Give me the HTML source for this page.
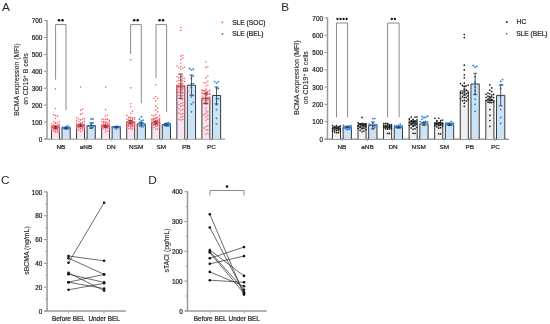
<!DOCTYPE html>
<html><head><meta charset="utf-8"><style>
html,body{margin:0;padding:0;background:#fff;width:550px;height:324px;overflow:hidden;}
svg{display:block;will-change:transform;}
</style></head><body>
<svg width="550" height="324" viewBox="0 0 550 324">
<style>text{font-family:"Liberation Sans", sans-serif;fill:#262626;stroke:#262626;stroke-width:0.22px;} .t{font-size:6.4px;} .l{font-size:6.65px;} .yc{font-size:6.85px;stroke-width:0.1px;} .ya{font-size:6.8px;stroke-width:0.1px;} .yb{font-size:7px;stroke-width:0.1px;} .p{font-size:11.8px;stroke-width:0;}</style>
<rect width="550" height="324" fill="#fff"/>
<text x="2.1" y="11.4" class="p">A</text>
<text x="281.3" y="11.2" class="p">B</text>
<text x="1.0" y="184.4" class="p">C</text>
<text x="148.3" y="184.4" class="p">D</text>
<line x1="47.0" y1="20.1" x2="47.0" y2="138.9" stroke="#9a9a9a" stroke-width="1.5"/>
<line x1="44.5" y1="139.1" x2="225" y2="139.1" stroke="#9a9a9a" stroke-width="1.4"/>
<line x1="44.0" y1="138.9" x2="47.0" y2="138.9" stroke="#9a9a9a" stroke-width="1.1"/>
<text x="42.3" y="141.5" text-anchor="end" class="t">0</text>
<line x1="44.0" y1="122" x2="47.0" y2="122" stroke="#9a9a9a" stroke-width="1.1"/>
<text x="42.3" y="124.6" text-anchor="end" class="t">100</text>
<line x1="44.0" y1="105.1" x2="47.0" y2="105.1" stroke="#9a9a9a" stroke-width="1.1"/>
<text x="42.3" y="107.7" text-anchor="end" class="t">200</text>
<line x1="44.0" y1="88.2" x2="47.0" y2="88.2" stroke="#9a9a9a" stroke-width="1.1"/>
<text x="42.3" y="90.8" text-anchor="end" class="t">300</text>
<line x1="44.0" y1="71.3" x2="47.0" y2="71.3" stroke="#9a9a9a" stroke-width="1.1"/>
<text x="42.3" y="73.9" text-anchor="end" class="t">400</text>
<line x1="44.0" y1="54.4" x2="47.0" y2="54.4" stroke="#9a9a9a" stroke-width="1.1"/>
<text x="42.3" y="57" text-anchor="end" class="t">500</text>
<line x1="44.0" y1="37.5" x2="47.0" y2="37.5" stroke="#9a9a9a" stroke-width="1.1"/>
<text x="42.3" y="40.1" text-anchor="end" class="t">600</text>
<line x1="44.0" y1="20.6" x2="47.0" y2="20.6" stroke="#9a9a9a" stroke-width="1.1"/>
<text x="42.3" y="23.2" text-anchor="end" class="t">700</text>
<line x1="60.9" y1="138.9" x2="60.9" y2="141.1" stroke="#9a9a9a" stroke-width="0.8"/>
<line x1="85.97" y1="138.9" x2="85.97" y2="141.1" stroke="#9a9a9a" stroke-width="0.8"/>
<line x1="111.04" y1="138.9" x2="111.04" y2="141.1" stroke="#9a9a9a" stroke-width="0.8"/>
<line x1="136.11" y1="138.9" x2="136.11" y2="141.1" stroke="#9a9a9a" stroke-width="0.8"/>
<line x1="161.18" y1="138.9" x2="161.18" y2="141.1" stroke="#9a9a9a" stroke-width="0.8"/>
<line x1="186.25" y1="138.9" x2="186.25" y2="141.1" stroke="#9a9a9a" stroke-width="0.8"/>
<line x1="211.32" y1="138.9" x2="211.32" y2="141.1" stroke="#9a9a9a" stroke-width="0.8"/>
<rect x="51.5" y="127.41" width="7.95" height="11.49" fill="#f7e6f1"/>
<path d="M51.5 138.9V127.41H59.45V138.9" fill="none" stroke="#3a3a3a" stroke-width="1.0"/>
<rect x="62" y="127.92" width="8.2" height="10.98" fill="#cce3f6"/>
<path d="M62 138.9V127.92H70.2V138.9" fill="none" stroke="#3a3a3a" stroke-width="1.0"/>
<circle cx="55.47" cy="132.16" r="0.8" fill="#ff5a66"/>
<circle cx="57.37" cy="131.97" r="0.8" fill="#ff5a66"/>
<circle cx="53.57" cy="131.02" r="0.8" fill="#ff5a66"/>
<circle cx="59.27" cy="130.97" r="0.8" fill="#ff5a66"/>
<circle cx="51.67" cy="130.37" r="0.8" fill="#ff5a66"/>
<circle cx="55.47" cy="130.2" r="0.8" fill="#ff5a66"/>
<circle cx="57.37" cy="130.13" r="0.8" fill="#ff5a66"/>
<circle cx="53.57" cy="129.99" r="0.8" fill="#ff5a66"/>
<circle cx="55.47" cy="129.24" r="0.8" fill="#ff5a66"/>
<circle cx="57.37" cy="129.2" r="0.8" fill="#ff5a66"/>
<circle cx="59.27" cy="129.04" r="0.8" fill="#ff5a66"/>
<circle cx="51.67" cy="128.92" r="0.8" fill="#ff5a66"/>
<circle cx="55.47" cy="128.65" r="0.8" fill="#ff5a66"/>
<circle cx="57.37" cy="128.65" r="0.8" fill="#ff5a66"/>
<circle cx="53.57" cy="128.05" r="0.8" fill="#ff5a66"/>
<circle cx="59.27" cy="127.93" r="0.8" fill="#ff5a66"/>
<circle cx="53.57" cy="127.79" r="0.8" fill="#ff5a66"/>
<circle cx="51.67" cy="127.64" r="0.8" fill="#ff5a66"/>
<circle cx="55.47" cy="127.59" r="0.8" fill="#ff5a66"/>
<circle cx="57.37" cy="127.53" r="0.8" fill="#ff5a66"/>
<circle cx="59.27" cy="127.52" r="0.8" fill="#ff5a66"/>
<circle cx="53.57" cy="126.94" r="0.8" fill="#ff5a66"/>
<circle cx="51.67" cy="126.81" r="0.8" fill="#ff5a66"/>
<circle cx="55.47" cy="126.66" r="0.8" fill="#ff5a66"/>
<circle cx="57.37" cy="126.41" r="0.8" fill="#ff5a66"/>
<circle cx="59.27" cy="126.21" r="0.8" fill="#ff5a66"/>
<circle cx="51.67" cy="126.16" r="0.8" fill="#ff5a66"/>
<circle cx="55.47" cy="126.15" r="0.8" fill="#ff5a66"/>
<circle cx="55.47" cy="126.05" r="0.8" fill="#ff5a66"/>
<circle cx="57.37" cy="125.86" r="0.8" fill="#ff5a66"/>
<circle cx="57.37" cy="125.85" r="0.8" fill="#ff5a66"/>
<circle cx="53.57" cy="125.81" r="0.8" fill="#ff5a66"/>
<circle cx="59.27" cy="125.72" r="0.8" fill="#ff5a66"/>
<circle cx="51.67" cy="125.7" r="0.8" fill="#ff5a66"/>
<circle cx="55.47" cy="125.69" r="0.8" fill="#ff5a66"/>
<circle cx="57.37" cy="125.55" r="0.8" fill="#ff5a66"/>
<circle cx="53.57" cy="125.18" r="0.8" fill="#ff5a66"/>
<circle cx="53.57" cy="125.1" r="0.8" fill="#ff5a66"/>
<circle cx="59.27" cy="124.91" r="0.8" fill="#ff5a66"/>
<circle cx="59.27" cy="124.48" r="0.8" fill="#ff5a66"/>
<circle cx="51.67" cy="123.82" r="0.8" fill="#ff5a66"/>
<circle cx="55.47" cy="123.3" r="0.8" fill="#ff5a66"/>
<circle cx="57.37" cy="123.22" r="0.8" fill="#ff5a66"/>
<circle cx="55.47" cy="122.65" r="0.8" fill="#ff5a66"/>
<circle cx="53.57" cy="121.75" r="0.8" fill="#ff5a66"/>
<circle cx="59.27" cy="121.69" r="0.8" fill="#ff5a66"/>
<circle cx="55.47" cy="118.45" r="0.8" fill="#ff5a66"/>
<circle cx="57.37" cy="116.09" r="0.8" fill="#ff5a66"/>
<circle cx="55.47" cy="115.58" r="0.8" fill="#ff5a66"/>
<circle cx="53.57" cy="114.9" r="0.8" fill="#ff5a66"/>
<circle cx="55.47" cy="108.48" r="0.8" fill="#ff5a66"/>
<circle cx="55.47" cy="88.88" r="0.8" fill="#ff5a66"/>
<circle cx="66.1" cy="129.21" r="0.95" fill="#2a86e6"/>
<circle cx="67.95" cy="128.76" r="0.95" fill="#2a86e6"/>
<circle cx="64.25" cy="128.66" r="0.95" fill="#2a86e6"/>
<circle cx="69.8" cy="128.41" r="0.95" fill="#2a86e6"/>
<circle cx="62.4" cy="128.16" r="0.95" fill="#2a86e6"/>
<circle cx="66.1" cy="127.92" r="0.95" fill="#2a86e6"/>
<circle cx="67.95" cy="127.7" r="0.95" fill="#2a86e6"/>
<circle cx="64.25" cy="127.67" r="0.95" fill="#2a86e6"/>
<circle cx="69.8" cy="127.53" r="0.95" fill="#2a86e6"/>
<circle cx="62.4" cy="127.26" r="0.95" fill="#2a86e6"/>
<circle cx="66.1" cy="126.72" r="0.95" fill="#2a86e6"/>
<circle cx="67.95" cy="125.93" r="0.95" fill="#2a86e6"/>
<path d="M55.47 128.42V126.39M53.57 126.39H57.37M53.57 128.42H57.37" fill="none" stroke="#333" stroke-width="0.8"/>
<path d="M66.1 128.59V127.24M64.2 127.24H68M64.2 128.59H68" fill="none" stroke="#333" stroke-width="0.8"/>
<text transform="translate(60.9,149) scale(1,0.9)" text-anchor="middle" class="t">NB</text>
<rect x="76.57" y="125.38" width="7.95" height="13.52" fill="#f7e6f1"/>
<path d="M76.57 138.9V125.38H84.52V138.9" fill="none" stroke="#3a3a3a" stroke-width="1.0"/>
<rect x="87.07" y="125.55" width="8.2" height="13.35" fill="#cce3f6"/>
<path d="M87.07 138.9V125.55H95.27V138.9" fill="none" stroke="#3a3a3a" stroke-width="1.0"/>
<circle cx="80.54" cy="131.51" r="0.8" fill="#ff5a66"/>
<circle cx="82.44" cy="130.26" r="0.8" fill="#ff5a66"/>
<circle cx="78.64" cy="129.96" r="0.8" fill="#ff5a66"/>
<circle cx="84.34" cy="129.55" r="0.8" fill="#ff5a66"/>
<circle cx="76.74" cy="129.3" r="0.8" fill="#ff5a66"/>
<circle cx="80.54" cy="128.86" r="0.8" fill="#ff5a66"/>
<circle cx="80.54" cy="128.64" r="0.8" fill="#ff5a66"/>
<circle cx="82.44" cy="128.32" r="0.8" fill="#ff5a66"/>
<circle cx="82.44" cy="127.64" r="0.8" fill="#ff5a66"/>
<circle cx="78.64" cy="127.58" r="0.8" fill="#ff5a66"/>
<circle cx="84.34" cy="127.42" r="0.8" fill="#ff5a66"/>
<circle cx="78.64" cy="127.18" r="0.8" fill="#ff5a66"/>
<circle cx="76.74" cy="127.09" r="0.8" fill="#ff5a66"/>
<circle cx="84.34" cy="126.93" r="0.8" fill="#ff5a66"/>
<circle cx="80.54" cy="126.91" r="0.8" fill="#ff5a66"/>
<circle cx="76.74" cy="126.64" r="0.8" fill="#ff5a66"/>
<circle cx="82.44" cy="126.57" r="0.8" fill="#ff5a66"/>
<circle cx="78.64" cy="126.55" r="0.8" fill="#ff5a66"/>
<circle cx="84.34" cy="126.43" r="0.8" fill="#ff5a66"/>
<circle cx="76.74" cy="126.42" r="0.8" fill="#ff5a66"/>
<circle cx="80.54" cy="126.16" r="0.8" fill="#ff5a66"/>
<circle cx="80.54" cy="125.89" r="0.8" fill="#ff5a66"/>
<circle cx="82.44" cy="125.69" r="0.8" fill="#ff5a66"/>
<circle cx="80.54" cy="125.59" r="0.8" fill="#ff5a66"/>
<circle cx="82.44" cy="125.58" r="0.8" fill="#ff5a66"/>
<circle cx="78.64" cy="125.21" r="0.8" fill="#ff5a66"/>
<circle cx="82.44" cy="125.01" r="0.8" fill="#ff5a66"/>
<circle cx="84.34" cy="124.99" r="0.8" fill="#ff5a66"/>
<circle cx="78.64" cy="124.98" r="0.8" fill="#ff5a66"/>
<circle cx="76.74" cy="124.95" r="0.8" fill="#ff5a66"/>
<circle cx="78.64" cy="124.57" r="0.8" fill="#ff5a66"/>
<circle cx="84.34" cy="124.5" r="0.8" fill="#ff5a66"/>
<circle cx="76.74" cy="124.46" r="0.8" fill="#ff5a66"/>
<circle cx="80.54" cy="124.33" r="0.8" fill="#ff5a66"/>
<circle cx="84.34" cy="124.31" r="0.8" fill="#ff5a66"/>
<circle cx="80.54" cy="124.28" r="0.8" fill="#ff5a66"/>
<circle cx="82.44" cy="124.08" r="0.8" fill="#ff5a66"/>
<circle cx="76.74" cy="123.18" r="0.8" fill="#ff5a66"/>
<circle cx="80.54" cy="123" r="0.8" fill="#ff5a66"/>
<circle cx="82.44" cy="122.52" r="0.8" fill="#ff5a66"/>
<circle cx="78.64" cy="121.81" r="0.8" fill="#ff5a66"/>
<circle cx="84.34" cy="121.39" r="0.8" fill="#ff5a66"/>
<circle cx="76.74" cy="120.45" r="0.8" fill="#ff5a66"/>
<circle cx="80.54" cy="119.91" r="0.8" fill="#ff5a66"/>
<circle cx="82.44" cy="119.27" r="0.8" fill="#ff5a66"/>
<circle cx="78.64" cy="118.95" r="0.8" fill="#ff5a66"/>
<circle cx="84.34" cy="118.66" r="0.8" fill="#ff5a66"/>
<circle cx="76.74" cy="117.66" r="0.8" fill="#ff5a66"/>
<circle cx="80.54" cy="114.4" r="0.8" fill="#ff5a66"/>
<circle cx="82.44" cy="113.55" r="0.8" fill="#ff5a66"/>
<circle cx="80.54" cy="110.17" r="0.8" fill="#ff5a66"/>
<circle cx="82.44" cy="109.33" r="0.8" fill="#ff5a66"/>
<circle cx="80.54" cy="87.02" r="0.8" fill="#ff5a66"/>
<circle cx="91.17" cy="128.02" r="0.95" fill="#2a86e6"/>
<circle cx="93.02" cy="127.04" r="0.95" fill="#2a86e6"/>
<circle cx="89.32" cy="126.16" r="0.95" fill="#2a86e6"/>
<circle cx="94.87" cy="126.05" r="0.95" fill="#2a86e6"/>
<circle cx="87.47" cy="125.88" r="0.95" fill="#2a86e6"/>
<circle cx="91.17" cy="125.46" r="0.95" fill="#2a86e6"/>
<circle cx="91.17" cy="124.54" r="0.95" fill="#2a86e6"/>
<circle cx="93.02" cy="122.89" r="0.95" fill="#2a86e6"/>
<circle cx="91.17" cy="118.96" r="0.95" fill="#2a86e6"/>
<circle cx="93.02" cy="118.96" r="0.95" fill="#2a86e6"/>
<path d="M80.54 126.56V124.2M78.64 124.2H82.44M78.64 126.56H82.44" fill="none" stroke="#333" stroke-width="0.8"/>
<path d="M91.17 128.25V122.84M89.27 122.84H93.07M89.27 128.25H93.07" fill="none" stroke="#333" stroke-width="0.8"/>
<text transform="translate(85.97,149) scale(1,0.9)" text-anchor="middle" class="t">aNB</text>
<rect x="101.64" y="126.39" width="7.95" height="12.51" fill="#f7e6f1"/>
<path d="M101.64 138.9V126.39H109.59V138.9" fill="none" stroke="#3a3a3a" stroke-width="1.0"/>
<rect x="112.14" y="126.9" width="8.2" height="12" fill="#cce3f6"/>
<path d="M112.14 138.9V126.9H120.34V138.9" fill="none" stroke="#3a3a3a" stroke-width="1.0"/>
<circle cx="105.61" cy="131.8" r="0.8" fill="#ff5a66"/>
<circle cx="107.51" cy="130.96" r="0.8" fill="#ff5a66"/>
<circle cx="105.61" cy="129.17" r="0.8" fill="#ff5a66"/>
<circle cx="103.71" cy="128.74" r="0.8" fill="#ff5a66"/>
<circle cx="107.51" cy="128.22" r="0.8" fill="#ff5a66"/>
<circle cx="109.41" cy="127.91" r="0.8" fill="#ff5a66"/>
<circle cx="101.81" cy="127.4" r="0.8" fill="#ff5a66"/>
<circle cx="105.61" cy="127.28" r="0.8" fill="#ff5a66"/>
<circle cx="107.51" cy="127.2" r="0.8" fill="#ff5a66"/>
<circle cx="103.71" cy="127.11" r="0.8" fill="#ff5a66"/>
<circle cx="105.61" cy="126.5" r="0.8" fill="#ff5a66"/>
<circle cx="109.41" cy="126.49" r="0.8" fill="#ff5a66"/>
<circle cx="101.81" cy="126.33" r="0.8" fill="#ff5a66"/>
<circle cx="105.61" cy="126.21" r="0.8" fill="#ff5a66"/>
<circle cx="103.71" cy="126.04" r="0.8" fill="#ff5a66"/>
<circle cx="107.51" cy="125.98" r="0.8" fill="#ff5a66"/>
<circle cx="103.71" cy="125.92" r="0.8" fill="#ff5a66"/>
<circle cx="109.41" cy="125.89" r="0.8" fill="#ff5a66"/>
<circle cx="101.81" cy="125.86" r="0.8" fill="#ff5a66"/>
<circle cx="105.61" cy="125.8" r="0.8" fill="#ff5a66"/>
<circle cx="107.51" cy="125.7" r="0.8" fill="#ff5a66"/>
<circle cx="109.41" cy="125.29" r="0.8" fill="#ff5a66"/>
<circle cx="107.51" cy="125.26" r="0.8" fill="#ff5a66"/>
<circle cx="103.71" cy="125.06" r="0.8" fill="#ff5a66"/>
<circle cx="109.41" cy="125.05" r="0.8" fill="#ff5a66"/>
<circle cx="101.81" cy="124.84" r="0.8" fill="#ff5a66"/>
<circle cx="101.81" cy="124.79" r="0.8" fill="#ff5a66"/>
<circle cx="105.61" cy="124.63" r="0.8" fill="#ff5a66"/>
<circle cx="105.61" cy="124.63" r="0.8" fill="#ff5a66"/>
<circle cx="107.51" cy="124.33" r="0.8" fill="#ff5a66"/>
<circle cx="103.71" cy="124.24" r="0.8" fill="#ff5a66"/>
<circle cx="109.41" cy="123.8" r="0.8" fill="#ff5a66"/>
<circle cx="105.61" cy="123.16" r="0.8" fill="#ff5a66"/>
<circle cx="107.51" cy="122.98" r="0.8" fill="#ff5a66"/>
<circle cx="103.71" cy="122.9" r="0.8" fill="#ff5a66"/>
<circle cx="107.51" cy="122.56" r="0.8" fill="#ff5a66"/>
<circle cx="101.81" cy="121.79" r="0.8" fill="#ff5a66"/>
<circle cx="105.61" cy="121.75" r="0.8" fill="#ff5a66"/>
<circle cx="103.71" cy="121.63" r="0.8" fill="#ff5a66"/>
<circle cx="109.41" cy="121.46" r="0.8" fill="#ff5a66"/>
<circle cx="109.41" cy="120.62" r="0.8" fill="#ff5a66"/>
<circle cx="107.51" cy="119.42" r="0.8" fill="#ff5a66"/>
<circle cx="105.61" cy="119.37" r="0.8" fill="#ff5a66"/>
<circle cx="107.51" cy="119.36" r="0.8" fill="#ff5a66"/>
<circle cx="103.71" cy="119.21" r="0.8" fill="#ff5a66"/>
<circle cx="101.81" cy="119.08" r="0.8" fill="#ff5a66"/>
<circle cx="105.61" cy="116.09" r="0.8" fill="#ff5a66"/>
<circle cx="107.51" cy="115.24" r="0.8" fill="#ff5a66"/>
<circle cx="105.61" cy="109.66" r="0.8" fill="#ff5a66"/>
<circle cx="105.61" cy="87.02" r="0.8" fill="#ff5a66"/>
<circle cx="116.24" cy="128.95" r="0.95" fill="#2a86e6"/>
<circle cx="118.09" cy="127.74" r="0.95" fill="#2a86e6"/>
<circle cx="114.39" cy="127.69" r="0.95" fill="#2a86e6"/>
<circle cx="119.94" cy="127.38" r="0.95" fill="#2a86e6"/>
<circle cx="112.54" cy="127.17" r="0.95" fill="#2a86e6"/>
<circle cx="116.24" cy="127.13" r="0.95" fill="#2a86e6"/>
<circle cx="118.09" cy="126.91" r="0.95" fill="#2a86e6"/>
<circle cx="114.39" cy="126.83" r="0.95" fill="#2a86e6"/>
<circle cx="119.94" cy="126.8" r="0.95" fill="#2a86e6"/>
<circle cx="112.54" cy="126.74" r="0.95" fill="#2a86e6"/>
<circle cx="116.24" cy="126.47" r="0.95" fill="#2a86e6"/>
<circle cx="118.09" cy="126.46" r="0.95" fill="#2a86e6"/>
<path d="M105.61 127.41V125.38M103.71 125.38H107.51M103.71 127.41H107.51" fill="none" stroke="#333" stroke-width="0.8"/>
<path d="M116.24 127.41V126.39M114.34 126.39H118.14M114.34 127.41H118.14" fill="none" stroke="#333" stroke-width="0.8"/>
<text transform="translate(111.04,149) scale(1,0.9)" text-anchor="middle" class="t">DN</text>
<rect x="126.71" y="122" width="7.95" height="16.9" fill="#f7e6f1"/>
<path d="M126.71 138.9V122H134.66V138.9" fill="none" stroke="#3a3a3a" stroke-width="1.0"/>
<rect x="137.21" y="123.86" width="8.2" height="15.04" fill="#cce3f6"/>
<path d="M137.21 138.9V123.86H145.41V138.9" fill="none" stroke="#3a3a3a" stroke-width="1.0"/>
<circle cx="130.69" cy="128.99" r="0.8" fill="#ff5a66"/>
<circle cx="132.59" cy="128.65" r="0.8" fill="#ff5a66"/>
<circle cx="128.78" cy="128.44" r="0.8" fill="#ff5a66"/>
<circle cx="134.49" cy="127.87" r="0.8" fill="#ff5a66"/>
<circle cx="126.89" cy="127.85" r="0.8" fill="#ff5a66"/>
<circle cx="130.69" cy="126.89" r="0.8" fill="#ff5a66"/>
<circle cx="132.59" cy="126.74" r="0.8" fill="#ff5a66"/>
<circle cx="130.69" cy="126.24" r="0.8" fill="#ff5a66"/>
<circle cx="128.78" cy="126.08" r="0.8" fill="#ff5a66"/>
<circle cx="134.49" cy="126.07" r="0.8" fill="#ff5a66"/>
<circle cx="126.89" cy="126.05" r="0.8" fill="#ff5a66"/>
<circle cx="132.59" cy="125.9" r="0.8" fill="#ff5a66"/>
<circle cx="128.78" cy="125.83" r="0.8" fill="#ff5a66"/>
<circle cx="130.69" cy="125.63" r="0.8" fill="#ff5a66"/>
<circle cx="132.59" cy="125.34" r="0.8" fill="#ff5a66"/>
<circle cx="134.49" cy="125.02" r="0.8" fill="#ff5a66"/>
<circle cx="126.89" cy="124.94" r="0.8" fill="#ff5a66"/>
<circle cx="128.78" cy="124.83" r="0.8" fill="#ff5a66"/>
<circle cx="134.49" cy="124.72" r="0.8" fill="#ff5a66"/>
<circle cx="126.89" cy="124.68" r="0.8" fill="#ff5a66"/>
<circle cx="130.69" cy="124.59" r="0.8" fill="#ff5a66"/>
<circle cx="132.59" cy="124.3" r="0.8" fill="#ff5a66"/>
<circle cx="130.69" cy="123.84" r="0.8" fill="#ff5a66"/>
<circle cx="132.59" cy="123.76" r="0.8" fill="#ff5a66"/>
<circle cx="128.78" cy="123.7" r="0.8" fill="#ff5a66"/>
<circle cx="130.69" cy="123.52" r="0.8" fill="#ff5a66"/>
<circle cx="128.78" cy="123.21" r="0.8" fill="#ff5a66"/>
<circle cx="134.49" cy="122.9" r="0.8" fill="#ff5a66"/>
<circle cx="132.59" cy="122.58" r="0.8" fill="#ff5a66"/>
<circle cx="126.89" cy="122.29" r="0.8" fill="#ff5a66"/>
<circle cx="134.49" cy="122.08" r="0.8" fill="#ff5a66"/>
<circle cx="126.89" cy="121.9" r="0.8" fill="#ff5a66"/>
<circle cx="130.69" cy="121.86" r="0.8" fill="#ff5a66"/>
<circle cx="128.78" cy="121.86" r="0.8" fill="#ff5a66"/>
<circle cx="134.49" cy="121.85" r="0.8" fill="#ff5a66"/>
<circle cx="126.89" cy="121.82" r="0.8" fill="#ff5a66"/>
<circle cx="132.59" cy="121.65" r="0.8" fill="#ff5a66"/>
<circle cx="130.69" cy="121.45" r="0.8" fill="#ff5a66"/>
<circle cx="132.59" cy="121" r="0.8" fill="#ff5a66"/>
<circle cx="128.78" cy="120.29" r="0.8" fill="#ff5a66"/>
<circle cx="130.69" cy="120.12" r="0.8" fill="#ff5a66"/>
<circle cx="128.78" cy="120.09" r="0.8" fill="#ff5a66"/>
<circle cx="134.49" cy="119.28" r="0.8" fill="#ff5a66"/>
<circle cx="126.89" cy="119.22" r="0.8" fill="#ff5a66"/>
<circle cx="132.59" cy="119.02" r="0.8" fill="#ff5a66"/>
<circle cx="130.69" cy="118.2" r="0.8" fill="#ff5a66"/>
<circle cx="132.59" cy="118.08" r="0.8" fill="#ff5a66"/>
<circle cx="134.49" cy="117.77" r="0.8" fill="#ff5a66"/>
<circle cx="128.78" cy="117.67" r="0.8" fill="#ff5a66"/>
<circle cx="130.69" cy="117.31" r="0.8" fill="#ff5a66"/>
<circle cx="128.78" cy="117.18" r="0.8" fill="#ff5a66"/>
<circle cx="126.89" cy="115.58" r="0.8" fill="#ff5a66"/>
<circle cx="130.69" cy="113.21" r="0.8" fill="#ff5a66"/>
<circle cx="132.59" cy="111.35" r="0.8" fill="#ff5a66"/>
<circle cx="130.69" cy="106.79" r="0.8" fill="#ff5a66"/>
<circle cx="130.69" cy="103.75" r="0.8" fill="#ff5a66"/>
<circle cx="130.69" cy="87.86" r="0.8" fill="#ff5a66"/>
<circle cx="130.69" cy="59.81" r="0.8" fill="#ff5a66"/>
<circle cx="141.31" cy="126.73" r="0.95" fill="#2a86e6"/>
<circle cx="143.16" cy="126.65" r="0.95" fill="#2a86e6"/>
<circle cx="139.46" cy="126.12" r="0.95" fill="#2a86e6"/>
<circle cx="145.01" cy="125.44" r="0.95" fill="#2a86e6"/>
<circle cx="141.31" cy="123.76" r="0.95" fill="#2a86e6"/>
<circle cx="143.16" cy="123.23" r="0.95" fill="#2a86e6"/>
<circle cx="139.46" cy="122.46" r="0.95" fill="#2a86e6"/>
<circle cx="141.31" cy="121.04" r="0.95" fill="#2a86e6"/>
<circle cx="143.16" cy="120.14" r="0.95" fill="#2a86e6"/>
<circle cx="139.46" cy="119.3" r="0.95" fill="#2a86e6"/>
<circle cx="141.31" cy="116.76" r="0.95" fill="#2a86e6"/>
<path d="M130.69 123.35V120.65M128.78 120.65H132.59M128.78 123.35H132.59" fill="none" stroke="#333" stroke-width="0.8"/>
<path d="M141.31 125.38V122.34M139.41 122.34H143.21M139.41 125.38H143.21" fill="none" stroke="#333" stroke-width="0.8"/>
<text transform="translate(136.11,149) scale(1,0.9)" text-anchor="middle" class="t">NSM</text>
<rect x="151.78" y="122.68" width="7.95" height="16.22" fill="#f7e6f1"/>
<path d="M151.78 138.9V122.68H159.73V138.9" fill="none" stroke="#3a3a3a" stroke-width="1.0"/>
<rect x="162.28" y="124.54" width="8.2" height="14.36" fill="#cce3f6"/>
<path d="M162.28 138.9V124.54H170.48V138.9" fill="none" stroke="#3a3a3a" stroke-width="1.0"/>
<circle cx="155.75" cy="129.22" r="0.8" fill="#ff5a66"/>
<circle cx="157.66" cy="128.99" r="0.8" fill="#ff5a66"/>
<circle cx="153.85" cy="127.6" r="0.8" fill="#ff5a66"/>
<circle cx="159.56" cy="127.45" r="0.8" fill="#ff5a66"/>
<circle cx="155.75" cy="126.4" r="0.8" fill="#ff5a66"/>
<circle cx="157.66" cy="125.84" r="0.8" fill="#ff5a66"/>
<circle cx="151.95" cy="125.47" r="0.8" fill="#ff5a66"/>
<circle cx="155.75" cy="125.15" r="0.8" fill="#ff5a66"/>
<circle cx="153.85" cy="124.91" r="0.8" fill="#ff5a66"/>
<circle cx="159.56" cy="124.78" r="0.8" fill="#ff5a66"/>
<circle cx="157.66" cy="124.77" r="0.8" fill="#ff5a66"/>
<circle cx="153.85" cy="124.53" r="0.8" fill="#ff5a66"/>
<circle cx="159.56" cy="123.84" r="0.8" fill="#ff5a66"/>
<circle cx="151.95" cy="123.82" r="0.8" fill="#ff5a66"/>
<circle cx="155.75" cy="123.7" r="0.8" fill="#ff5a66"/>
<circle cx="155.75" cy="123.59" r="0.8" fill="#ff5a66"/>
<circle cx="157.66" cy="123.32" r="0.8" fill="#ff5a66"/>
<circle cx="151.95" cy="122.84" r="0.8" fill="#ff5a66"/>
<circle cx="157.66" cy="122.76" r="0.8" fill="#ff5a66"/>
<circle cx="153.85" cy="122.57" r="0.8" fill="#ff5a66"/>
<circle cx="159.56" cy="122.56" r="0.8" fill="#ff5a66"/>
<circle cx="155.75" cy="122.5" r="0.8" fill="#ff5a66"/>
<circle cx="151.95" cy="122.4" r="0.8" fill="#ff5a66"/>
<circle cx="153.85" cy="121.89" r="0.8" fill="#ff5a66"/>
<circle cx="159.56" cy="121.24" r="0.8" fill="#ff5a66"/>
<circle cx="157.66" cy="121.11" r="0.8" fill="#ff5a66"/>
<circle cx="155.75" cy="121.09" r="0.8" fill="#ff5a66"/>
<circle cx="153.85" cy="121.07" r="0.8" fill="#ff5a66"/>
<circle cx="155.75" cy="120.87" r="0.8" fill="#ff5a66"/>
<circle cx="159.56" cy="120.79" r="0.8" fill="#ff5a66"/>
<circle cx="151.95" cy="120.73" r="0.8" fill="#ff5a66"/>
<circle cx="155.75" cy="120.73" r="0.8" fill="#ff5a66"/>
<circle cx="157.66" cy="120.61" r="0.8" fill="#ff5a66"/>
<circle cx="157.66" cy="120.13" r="0.8" fill="#ff5a66"/>
<circle cx="151.95" cy="119.98" r="0.8" fill="#ff5a66"/>
<circle cx="157.66" cy="119.97" r="0.8" fill="#ff5a66"/>
<circle cx="153.85" cy="119.57" r="0.8" fill="#ff5a66"/>
<circle cx="159.56" cy="119.37" r="0.8" fill="#ff5a66"/>
<circle cx="153.85" cy="119.27" r="0.8" fill="#ff5a66"/>
<circle cx="151.95" cy="119.15" r="0.8" fill="#ff5a66"/>
<circle cx="155.75" cy="118.7" r="0.8" fill="#ff5a66"/>
<circle cx="153.85" cy="118.66" r="0.8" fill="#ff5a66"/>
<circle cx="159.56" cy="118.3" r="0.8" fill="#ff5a66"/>
<circle cx="155.75" cy="117.99" r="0.8" fill="#ff5a66"/>
<circle cx="155.75" cy="117.73" r="0.8" fill="#ff5a66"/>
<circle cx="157.66" cy="117.18" r="0.8" fill="#ff5a66"/>
<circle cx="153.85" cy="115.87" r="0.8" fill="#ff5a66"/>
<circle cx="159.56" cy="115.44" r="0.8" fill="#ff5a66"/>
<circle cx="151.95" cy="115.25" r="0.8" fill="#ff5a66"/>
<circle cx="155.75" cy="114.4" r="0.8" fill="#ff5a66"/>
<circle cx="157.66" cy="111.86" r="0.8" fill="#ff5a66"/>
<circle cx="155.75" cy="110.17" r="0.8" fill="#ff5a66"/>
<circle cx="157.66" cy="108.14" r="0.8" fill="#ff5a66"/>
<circle cx="155.75" cy="106.28" r="0.8" fill="#ff5a66"/>
<circle cx="155.75" cy="100.88" r="0.8" fill="#ff5a66"/>
<circle cx="157.66" cy="98.34" r="0.8" fill="#ff5a66"/>
<circle cx="153.85" cy="98.34" r="0.8" fill="#ff5a66"/>
<circle cx="155.75" cy="96.48" r="0.8" fill="#ff5a66"/>
<circle cx="155.75" cy="84.82" r="0.8" fill="#ff5a66"/>
<circle cx="166.38" cy="126.03" r="0.95" fill="#2a86e6"/>
<circle cx="168.23" cy="125.96" r="0.95" fill="#2a86e6"/>
<circle cx="164.53" cy="125.62" r="0.95" fill="#2a86e6"/>
<circle cx="170.08" cy="125.32" r="0.95" fill="#2a86e6"/>
<circle cx="162.68" cy="125.19" r="0.95" fill="#2a86e6"/>
<circle cx="166.38" cy="124.41" r="0.95" fill="#2a86e6"/>
<circle cx="168.23" cy="124.24" r="0.95" fill="#2a86e6"/>
<circle cx="164.53" cy="123.8" r="0.95" fill="#2a86e6"/>
<circle cx="170.08" cy="123.45" r="0.95" fill="#2a86e6"/>
<circle cx="166.38" cy="123.27" r="0.95" fill="#2a86e6"/>
<circle cx="168.23" cy="122.75" r="0.95" fill="#2a86e6"/>
<path d="M155.75 124.03V121.32M153.85 121.32H157.66M153.85 124.03H157.66" fill="none" stroke="#333" stroke-width="0.8"/>
<path d="M166.38 125.38V123.69M164.48 123.69H168.28M164.48 125.38H168.28" fill="none" stroke="#333" stroke-width="0.8"/>
<text transform="translate(161.18,149) scale(1,0.9)" text-anchor="middle" class="t">SM</text>
<rect x="176.85" y="86.17" width="7.95" height="52.73" fill="#f7e6f1"/>
<path d="M176.85 138.9V86.17H184.8V138.9" fill="none" stroke="#3a3a3a" stroke-width="1.0"/>
<rect x="187.35" y="85.16" width="8.2" height="53.74" fill="#cce3f6"/>
<path d="M187.35 138.9V85.16H195.55V138.9" fill="none" stroke="#3a3a3a" stroke-width="1.0"/>
<circle cx="180.82" cy="120.03" r="0.8" fill="#ff5a66"/>
<circle cx="182.72" cy="119.45" r="0.8" fill="#ff5a66"/>
<circle cx="178.92" cy="119.44" r="0.8" fill="#ff5a66"/>
<circle cx="180.82" cy="117.35" r="0.8" fill="#ff5a66"/>
<circle cx="182.72" cy="116.47" r="0.8" fill="#ff5a66"/>
<circle cx="180.82" cy="114.51" r="0.8" fill="#ff5a66"/>
<circle cx="182.72" cy="113.79" r="0.8" fill="#ff5a66"/>
<circle cx="178.92" cy="113.14" r="0.8" fill="#ff5a66"/>
<circle cx="184.62" cy="112.11" r="0.8" fill="#ff5a66"/>
<circle cx="177.02" cy="112.1" r="0.8" fill="#ff5a66"/>
<circle cx="180.82" cy="110.27" r="0.8" fill="#ff5a66"/>
<circle cx="182.72" cy="109.39" r="0.8" fill="#ff5a66"/>
<circle cx="178.92" cy="108.51" r="0.8" fill="#ff5a66"/>
<circle cx="184.62" cy="107.91" r="0.8" fill="#ff5a66"/>
<circle cx="180.82" cy="106.14" r="0.8" fill="#ff5a66"/>
<circle cx="182.72" cy="105.48" r="0.8" fill="#ff5a66"/>
<circle cx="178.92" cy="104.73" r="0.8" fill="#ff5a66"/>
<circle cx="180.82" cy="103.44" r="0.8" fill="#ff5a66"/>
<circle cx="184.62" cy="102.96" r="0.8" fill="#ff5a66"/>
<circle cx="182.72" cy="102.69" r="0.8" fill="#ff5a66"/>
<circle cx="177.02" cy="102.54" r="0.8" fill="#ff5a66"/>
<circle cx="180.82" cy="99.23" r="0.8" fill="#ff5a66"/>
<circle cx="182.72" cy="99.1" r="0.8" fill="#ff5a66"/>
<circle cx="178.92" cy="98" r="0.8" fill="#ff5a66"/>
<circle cx="184.62" cy="97.65" r="0.8" fill="#ff5a66"/>
<circle cx="180.82" cy="95.71" r="0.8" fill="#ff5a66"/>
<circle cx="182.72" cy="95.7" r="0.8" fill="#ff5a66"/>
<circle cx="178.92" cy="95.39" r="0.8" fill="#ff5a66"/>
<circle cx="184.62" cy="93.76" r="0.8" fill="#ff5a66"/>
<circle cx="180.82" cy="92.84" r="0.8" fill="#ff5a66"/>
<circle cx="182.72" cy="92.82" r="0.8" fill="#ff5a66"/>
<circle cx="178.92" cy="92.75" r="0.8" fill="#ff5a66"/>
<circle cx="177.02" cy="92.69" r="0.8" fill="#ff5a66"/>
<circle cx="180.82" cy="92.5" r="0.8" fill="#ff5a66"/>
<circle cx="182.72" cy="92.45" r="0.8" fill="#ff5a66"/>
<circle cx="178.92" cy="92.07" r="0.8" fill="#ff5a66"/>
<circle cx="184.62" cy="91.21" r="0.8" fill="#ff5a66"/>
<circle cx="184.62" cy="91.08" r="0.8" fill="#ff5a66"/>
<circle cx="177.02" cy="90.97" r="0.8" fill="#ff5a66"/>
<circle cx="180.82" cy="90.76" r="0.8" fill="#ff5a66"/>
<circle cx="182.72" cy="89.97" r="0.8" fill="#ff5a66"/>
<circle cx="178.92" cy="89.24" r="0.8" fill="#ff5a66"/>
<circle cx="180.82" cy="89.2" r="0.8" fill="#ff5a66"/>
<circle cx="182.72" cy="88.53" r="0.8" fill="#ff5a66"/>
<circle cx="184.62" cy="88.29" r="0.8" fill="#ff5a66"/>
<circle cx="177.02" cy="88.27" r="0.8" fill="#ff5a66"/>
<circle cx="180.82" cy="87.64" r="0.8" fill="#ff5a66"/>
<circle cx="182.72" cy="87.27" r="0.8" fill="#ff5a66"/>
<circle cx="178.92" cy="87.18" r="0.8" fill="#ff5a66"/>
<circle cx="180.82" cy="86.12" r="0.8" fill="#ff5a66"/>
<circle cx="182.72" cy="85.81" r="0.8" fill="#ff5a66"/>
<circle cx="184.62" cy="85.68" r="0.8" fill="#ff5a66"/>
<circle cx="177.02" cy="85.64" r="0.8" fill="#ff5a66"/>
<circle cx="178.92" cy="85.63" r="0.8" fill="#ff5a66"/>
<circle cx="184.62" cy="85.48" r="0.8" fill="#ff5a66"/>
<circle cx="177.02" cy="85.17" r="0.8" fill="#ff5a66"/>
<circle cx="180.82" cy="84.55" r="0.8" fill="#ff5a66"/>
<circle cx="182.72" cy="83.88" r="0.8" fill="#ff5a66"/>
<circle cx="178.92" cy="83.84" r="0.8" fill="#ff5a66"/>
<circle cx="180.82" cy="83.73" r="0.8" fill="#ff5a66"/>
<circle cx="180.82" cy="83.38" r="0.8" fill="#ff5a66"/>
<circle cx="184.62" cy="81.63" r="0.8" fill="#ff5a66"/>
<circle cx="177.02" cy="81.3" r="0.8" fill="#ff5a66"/>
<circle cx="182.72" cy="81.13" r="0.8" fill="#ff5a66"/>
<circle cx="180.82" cy="80.77" r="0.8" fill="#ff5a66"/>
<circle cx="178.92" cy="80.42" r="0.8" fill="#ff5a66"/>
<circle cx="180.82" cy="79.67" r="0.8" fill="#ff5a66"/>
<circle cx="182.72" cy="78.52" r="0.8" fill="#ff5a66"/>
<circle cx="184.62" cy="78.44" r="0.8" fill="#ff5a66"/>
<circle cx="178.92" cy="77.65" r="0.8" fill="#ff5a66"/>
<circle cx="180.82" cy="76.97" r="0.8" fill="#ff5a66"/>
<circle cx="177.02" cy="76.47" r="0.8" fill="#ff5a66"/>
<circle cx="180.82" cy="76.44" r="0.8" fill="#ff5a66"/>
<circle cx="182.72" cy="75.94" r="0.8" fill="#ff5a66"/>
<circle cx="178.92" cy="73.96" r="0.8" fill="#ff5a66"/>
<circle cx="180.82" cy="69.18" r="0.8" fill="#ff5a66"/>
<circle cx="182.72" cy="68.31" r="0.8" fill="#ff5a66"/>
<circle cx="178.92" cy="67.75" r="0.8" fill="#ff5a66"/>
<circle cx="184.62" cy="67.19" r="0.8" fill="#ff5a66"/>
<circle cx="180.82" cy="66.44" r="0.8" fill="#ff5a66"/>
<circle cx="177.02" cy="66.05" r="0.8" fill="#ff5a66"/>
<circle cx="180.82" cy="62.99" r="0.8" fill="#ff5a66"/>
<circle cx="180.82" cy="59.47" r="0.8" fill="#ff5a66"/>
<circle cx="182.72" cy="58.12" r="0.8" fill="#ff5a66"/>
<circle cx="180.82" cy="56.09" r="0.8" fill="#ff5a66"/>
<circle cx="182.72" cy="55.25" r="0.8" fill="#ff5a66"/>
<circle cx="180.82" cy="30.57" r="0.8" fill="#ff5a66"/>
<circle cx="180.82" cy="27.7" r="0.8" fill="#ff5a66"/>
<circle cx="191.45" cy="111.69" r="0.95" fill="#2a86e6"/>
<circle cx="191.45" cy="104.25" r="0.95" fill="#2a86e6"/>
<circle cx="193.3" cy="102.4" r="0.95" fill="#2a86e6"/>
<circle cx="191.45" cy="96.99" r="0.95" fill="#2a86e6"/>
<circle cx="193.3" cy="95.3" r="0.95" fill="#2a86e6"/>
<circle cx="191.45" cy="87.19" r="0.95" fill="#2a86e6"/>
<circle cx="191.45" cy="83.64" r="0.95" fill="#2a86e6"/>
<circle cx="193.3" cy="83.64" r="0.95" fill="#2a86e6"/>
<circle cx="191.45" cy="78.57" r="0.95" fill="#2a86e6"/>
<circle cx="193.3" cy="76.37" r="0.95" fill="#2a86e6"/>
<circle cx="191.45" cy="70.12" r="0.95" fill="#2a86e6"/>
<circle cx="193.3" cy="69.27" r="0.95" fill="#2a86e6"/>
<circle cx="189.6" cy="68.43" r="0.95" fill="#2a86e6"/>
<path d="M180.82 98.34V74M178.92 74H182.72M178.92 98.34H182.72" fill="none" stroke="#333" stroke-width="0.8"/>
<path d="M191.45 95.3V75.02M189.55 75.02H193.35M189.55 95.3H193.35" fill="none" stroke="#333" stroke-width="0.8"/>
<text transform="translate(186.25,149) scale(1,0.9)" text-anchor="middle" class="t">PB</text>
<rect x="201.92" y="98.34" width="7.95" height="40.56" fill="#f7e6f1"/>
<path d="M201.92 138.9V98.34H209.87V138.9" fill="none" stroke="#3a3a3a" stroke-width="1.0"/>
<rect x="212.42" y="95.47" width="8.2" height="43.43" fill="#cce3f6"/>
<path d="M212.42 138.9V95.47H220.62V138.9" fill="none" stroke="#3a3a3a" stroke-width="1.0"/>
<circle cx="205.9" cy="134.36" r="0.8" fill="#ff5a66"/>
<circle cx="207.8" cy="133.27" r="0.8" fill="#ff5a66"/>
<circle cx="205.9" cy="129.93" r="0.8" fill="#ff5a66"/>
<circle cx="207.8" cy="129.85" r="0.8" fill="#ff5a66"/>
<circle cx="204" cy="128.16" r="0.8" fill="#ff5a66"/>
<circle cx="205.9" cy="126.72" r="0.8" fill="#ff5a66"/>
<circle cx="207.8" cy="125.8" r="0.8" fill="#ff5a66"/>
<circle cx="205.9" cy="120.18" r="0.8" fill="#ff5a66"/>
<circle cx="207.8" cy="119.29" r="0.8" fill="#ff5a66"/>
<circle cx="205.9" cy="117.14" r="0.8" fill="#ff5a66"/>
<circle cx="207.8" cy="115.39" r="0.8" fill="#ff5a66"/>
<circle cx="204" cy="114.63" r="0.8" fill="#ff5a66"/>
<circle cx="205.9" cy="113.37" r="0.8" fill="#ff5a66"/>
<circle cx="207.8" cy="111.85" r="0.8" fill="#ff5a66"/>
<circle cx="205.9" cy="110.71" r="0.8" fill="#ff5a66"/>
<circle cx="205.9" cy="108.09" r="0.8" fill="#ff5a66"/>
<circle cx="205.9" cy="104.49" r="0.8" fill="#ff5a66"/>
<circle cx="207.8" cy="104.04" r="0.8" fill="#ff5a66"/>
<circle cx="204" cy="103.67" r="0.8" fill="#ff5a66"/>
<circle cx="209.7" cy="103.66" r="0.8" fill="#ff5a66"/>
<circle cx="202.1" cy="103.58" r="0.8" fill="#ff5a66"/>
<circle cx="205.9" cy="103.5" r="0.8" fill="#ff5a66"/>
<circle cx="207.8" cy="103.08" r="0.8" fill="#ff5a66"/>
<circle cx="204" cy="103.07" r="0.8" fill="#ff5a66"/>
<circle cx="205.9" cy="101.32" r="0.8" fill="#ff5a66"/>
<circle cx="207.8" cy="100.37" r="0.8" fill="#ff5a66"/>
<circle cx="204" cy="100.2" r="0.8" fill="#ff5a66"/>
<circle cx="209.7" cy="99.8" r="0.8" fill="#ff5a66"/>
<circle cx="202.1" cy="99.65" r="0.8" fill="#ff5a66"/>
<circle cx="205.9" cy="99.14" r="0.8" fill="#ff5a66"/>
<circle cx="207.8" cy="99.04" r="0.8" fill="#ff5a66"/>
<circle cx="205.9" cy="98.58" r="0.8" fill="#ff5a66"/>
<circle cx="204" cy="98.45" r="0.8" fill="#ff5a66"/>
<circle cx="209.7" cy="98.13" r="0.8" fill="#ff5a66"/>
<circle cx="202.1" cy="98.02" r="0.8" fill="#ff5a66"/>
<circle cx="205.9" cy="97.97" r="0.8" fill="#ff5a66"/>
<circle cx="207.8" cy="97.68" r="0.8" fill="#ff5a66"/>
<circle cx="204" cy="97.37" r="0.8" fill="#ff5a66"/>
<circle cx="207.8" cy="97.29" r="0.8" fill="#ff5a66"/>
<circle cx="209.7" cy="96.94" r="0.8" fill="#ff5a66"/>
<circle cx="202.1" cy="96.05" r="0.8" fill="#ff5a66"/>
<circle cx="205.9" cy="95.07" r="0.8" fill="#ff5a66"/>
<circle cx="205.9" cy="94.97" r="0.8" fill="#ff5a66"/>
<circle cx="207.8" cy="94.85" r="0.8" fill="#ff5a66"/>
<circle cx="204" cy="94.42" r="0.8" fill="#ff5a66"/>
<circle cx="207.8" cy="94.37" r="0.8" fill="#ff5a66"/>
<circle cx="209.7" cy="94.14" r="0.8" fill="#ff5a66"/>
<circle cx="204" cy="93.62" r="0.8" fill="#ff5a66"/>
<circle cx="209.7" cy="93.51" r="0.8" fill="#ff5a66"/>
<circle cx="202.1" cy="93.21" r="0.8" fill="#ff5a66"/>
<circle cx="202.1" cy="93.08" r="0.8" fill="#ff5a66"/>
<circle cx="205.9" cy="93" r="0.8" fill="#ff5a66"/>
<circle cx="207.8" cy="92.52" r="0.8" fill="#ff5a66"/>
<circle cx="205.9" cy="92.16" r="0.8" fill="#ff5a66"/>
<circle cx="205.9" cy="92.03" r="0.8" fill="#ff5a66"/>
<circle cx="207.8" cy="91.51" r="0.8" fill="#ff5a66"/>
<circle cx="204" cy="91.01" r="0.8" fill="#ff5a66"/>
<circle cx="209.7" cy="90.58" r="0.8" fill="#ff5a66"/>
<circle cx="204" cy="90.55" r="0.8" fill="#ff5a66"/>
<circle cx="209.7" cy="90.55" r="0.8" fill="#ff5a66"/>
<circle cx="202.1" cy="90.41" r="0.8" fill="#ff5a66"/>
<circle cx="202.1" cy="90.34" r="0.8" fill="#ff5a66"/>
<circle cx="205.9" cy="89.97" r="0.8" fill="#ff5a66"/>
<circle cx="205.9" cy="89.37" r="0.8" fill="#ff5a66"/>
<circle cx="205.9" cy="86" r="0.8" fill="#ff5a66"/>
<circle cx="207.8" cy="84.95" r="0.8" fill="#ff5a66"/>
<circle cx="205.9" cy="82.79" r="0.8" fill="#ff5a66"/>
<circle cx="204" cy="82.79" r="0.8" fill="#ff5a66"/>
<circle cx="207.8" cy="81.27" r="0.8" fill="#ff5a66"/>
<circle cx="205.9" cy="77.89" r="0.8" fill="#ff5a66"/>
<circle cx="207.8" cy="76.03" r="0.8" fill="#ff5a66"/>
<circle cx="205.9" cy="67.41" r="0.8" fill="#ff5a66"/>
<circle cx="207.8" cy="66.74" r="0.8" fill="#ff5a66"/>
<circle cx="205.9" cy="62" r="0.8" fill="#ff5a66"/>
<circle cx="216.52" cy="123.86" r="0.95" fill="#2a86e6"/>
<circle cx="216.52" cy="118.28" r="0.95" fill="#2a86e6"/>
<circle cx="216.52" cy="109.66" r="0.95" fill="#2a86e6"/>
<circle cx="216.52" cy="104.76" r="0.95" fill="#2a86e6"/>
<circle cx="216.52" cy="98.68" r="0.95" fill="#2a86e6"/>
<circle cx="218.37" cy="98.68" r="0.95" fill="#2a86e6"/>
<circle cx="216.52" cy="88.54" r="0.95" fill="#2a86e6"/>
<circle cx="218.37" cy="88.54" r="0.95" fill="#2a86e6"/>
<circle cx="216.52" cy="83.13" r="0.95" fill="#2a86e6"/>
<circle cx="218.37" cy="81.61" r="0.95" fill="#2a86e6"/>
<circle cx="214.67" cy="81.61" r="0.95" fill="#2a86e6"/>
<path d="M205.9 103.41V93.27M204 93.27H207.8M204 103.41H207.8" fill="none" stroke="#333" stroke-width="0.8"/>
<path d="M216.52 103.92V87.02M214.62 87.02H218.42M214.62 103.92H218.42" fill="none" stroke="#333" stroke-width="0.8"/>
<text transform="translate(211.32,149) scale(1,0.9)" text-anchor="middle" class="t">PC</text>
<path d="M55.6 79.7V24.6H66V110.5" fill="none" stroke="#8a8a8a" stroke-width="1"/>
<circle cx="59.05" cy="20.3" r="1.3" fill="#111"/>
<circle cx="62.55" cy="20.3" r="1.3" fill="#111"/>
<path d="M130.6 54V24.6H141.3V103.3" fill="none" stroke="#8a8a8a" stroke-width="1"/>
<circle cx="134.2" cy="20.3" r="1.3" fill="#111"/>
<circle cx="137.7" cy="20.3" r="1.3" fill="#111"/>
<path d="M156 78.2V24.6H166.6V111.9" fill="none" stroke="#8a8a8a" stroke-width="1"/>
<circle cx="159.55" cy="20.3" r="1.3" fill="#111"/>
<circle cx="163.05" cy="20.3" r="1.3" fill="#111"/>
<circle cx="222.5" cy="22.4" r="0.9" fill="#ff5a66"/>
<circle cx="222.5" cy="34" r="0.9" fill="#2a86e6"/>
<text x="232.2" y="24.7" class="l">SLE (SOC)</text>
<text x="232.2" y="36.2" class="l">SLE (BEL)</text>
<text transform="translate(19.4,79.6) rotate(-90)" text-anchor="middle" class="ya">BCMA expression (MFI)</text>
<text transform="translate(28.4,79.0) rotate(-90)" text-anchor="middle" class="ya">on CD19<tspan font-size="4.8px" dy="-2.6">+</tspan><tspan dy="2.6"> B cells</tspan></text>
<line x1="327.5" y1="17.4" x2="327.5" y2="139.0" stroke="#9a9a9a" stroke-width="1.5"/>
<line x1="325.0" y1="139.2" x2="508.7" y2="139.2" stroke="#9a9a9a" stroke-width="1.4"/>
<line x1="324.5" y1="139" x2="327.5" y2="139" stroke="#9a9a9a" stroke-width="1.1"/>
<text x="323" y="141.6" text-anchor="end" class="t">0</text>
<line x1="324.5" y1="121.7" x2="327.5" y2="121.7" stroke="#9a9a9a" stroke-width="1.1"/>
<text x="323" y="124.3" text-anchor="end" class="t">100</text>
<line x1="324.5" y1="104.4" x2="327.5" y2="104.4" stroke="#9a9a9a" stroke-width="1.1"/>
<text x="323" y="107" text-anchor="end" class="t">200</text>
<line x1="324.5" y1="87.1" x2="327.5" y2="87.1" stroke="#9a9a9a" stroke-width="1.1"/>
<text x="323" y="89.7" text-anchor="end" class="t">300</text>
<line x1="324.5" y1="69.8" x2="327.5" y2="69.8" stroke="#9a9a9a" stroke-width="1.1"/>
<text x="323" y="72.4" text-anchor="end" class="t">400</text>
<line x1="324.5" y1="52.5" x2="327.5" y2="52.5" stroke="#9a9a9a" stroke-width="1.1"/>
<text x="323" y="55.1" text-anchor="end" class="t">500</text>
<line x1="324.5" y1="35.2" x2="327.5" y2="35.2" stroke="#9a9a9a" stroke-width="1.1"/>
<text x="323" y="37.8" text-anchor="end" class="t">600</text>
<line x1="324.5" y1="17.9" x2="327.5" y2="17.9" stroke="#9a9a9a" stroke-width="1.1"/>
<text x="323" y="20.5" text-anchor="end" class="t">700</text>
<line x1="341.9" y1="139.0" x2="341.9" y2="141.2" stroke="#9a9a9a" stroke-width="0.8"/>
<line x1="367.47" y1="139.0" x2="367.47" y2="141.2" stroke="#9a9a9a" stroke-width="0.8"/>
<line x1="393.04" y1="139.0" x2="393.04" y2="141.2" stroke="#9a9a9a" stroke-width="0.8"/>
<line x1="418.61" y1="139.0" x2="418.61" y2="141.2" stroke="#9a9a9a" stroke-width="0.8"/>
<line x1="444.18" y1="139.0" x2="444.18" y2="141.2" stroke="#9a9a9a" stroke-width="0.8"/>
<line x1="469.75" y1="139.0" x2="469.75" y2="141.2" stroke="#9a9a9a" stroke-width="0.8"/>
<line x1="495.32" y1="139.0" x2="495.32" y2="141.2" stroke="#9a9a9a" stroke-width="0.8"/>
<rect x="332.4" y="127.75" width="8.1" height="11.25" fill="#f0f0f0"/>
<path d="M332.4 139V127.75H340.5V139" fill="none" stroke="#3a3a3a" stroke-width="1.0"/>
<rect x="343.1" y="126.89" width="8.3" height="12.11" fill="#cce3f6"/>
<path d="M343.1 139V126.89H351.4V139" fill="none" stroke="#3a3a3a" stroke-width="1.0"/>
<circle cx="336.45" cy="132.74" r="0.85" fill="#1a1a1a"/>
<circle cx="338.35" cy="132.64" r="0.85" fill="#1a1a1a"/>
<circle cx="334.55" cy="132.11" r="0.85" fill="#1a1a1a"/>
<circle cx="340.25" cy="131.42" r="0.85" fill="#1a1a1a"/>
<circle cx="332.65" cy="130.9" r="0.85" fill="#1a1a1a"/>
<circle cx="336.45" cy="130.77" r="0.85" fill="#1a1a1a"/>
<circle cx="336.45" cy="130.07" r="0.85" fill="#1a1a1a"/>
<circle cx="338.35" cy="129.92" r="0.85" fill="#1a1a1a"/>
<circle cx="338.35" cy="129.87" r="0.85" fill="#1a1a1a"/>
<circle cx="334.55" cy="129.77" r="0.85" fill="#1a1a1a"/>
<circle cx="334.55" cy="129.32" r="0.85" fill="#1a1a1a"/>
<circle cx="340.25" cy="128.98" r="0.85" fill="#1a1a1a"/>
<circle cx="340.25" cy="128.79" r="0.85" fill="#1a1a1a"/>
<circle cx="332.65" cy="128.6" r="0.85" fill="#1a1a1a"/>
<circle cx="336.45" cy="128.45" r="0.85" fill="#1a1a1a"/>
<circle cx="338.35" cy="128.44" r="0.85" fill="#1a1a1a"/>
<circle cx="332.65" cy="128.16" r="0.85" fill="#1a1a1a"/>
<circle cx="336.45" cy="127.8" r="0.85" fill="#1a1a1a"/>
<circle cx="334.55" cy="127.58" r="0.85" fill="#1a1a1a"/>
<circle cx="336.45" cy="127.46" r="0.85" fill="#1a1a1a"/>
<circle cx="338.35" cy="127.1" r="0.85" fill="#1a1a1a"/>
<circle cx="338.35" cy="127.03" r="0.85" fill="#1a1a1a"/>
<circle cx="334.55" cy="126.76" r="0.85" fill="#1a1a1a"/>
<circle cx="334.55" cy="126.51" r="0.85" fill="#1a1a1a"/>
<circle cx="340.25" cy="126.35" r="0.85" fill="#1a1a1a"/>
<circle cx="340.25" cy="126.1" r="0.85" fill="#1a1a1a"/>
<circle cx="332.65" cy="125.68" r="0.85" fill="#1a1a1a"/>
<circle cx="336.45" cy="125.68" r="0.85" fill="#1a1a1a"/>
<circle cx="347.25" cy="129.63" r="0.95" fill="#2a86e6"/>
<circle cx="349.1" cy="129.27" r="0.95" fill="#2a86e6"/>
<circle cx="345.4" cy="128.67" r="0.95" fill="#2a86e6"/>
<circle cx="350.95" cy="128.57" r="0.95" fill="#2a86e6"/>
<circle cx="343.55" cy="128.33" r="0.95" fill="#2a86e6"/>
<circle cx="347.25" cy="128.28" r="0.95" fill="#2a86e6"/>
<circle cx="349.1" cy="127.56" r="0.95" fill="#2a86e6"/>
<circle cx="345.4" cy="127.28" r="0.95" fill="#2a86e6"/>
<circle cx="347.25" cy="126.6" r="0.95" fill="#2a86e6"/>
<circle cx="349.1" cy="126.31" r="0.95" fill="#2a86e6"/>
<circle cx="350.95" cy="125.63" r="0.95" fill="#2a86e6"/>
<circle cx="343.55" cy="125.5" r="0.95" fill="#2a86e6"/>
<path d="M336.45 128.27V127.24M334.55 127.24H338.35M334.55 128.27H338.35" fill="none" stroke="#333" stroke-width="0.8"/>
<path d="M347.25 127.58V126.2M345.35 126.2H349.15M345.35 127.58H349.15" fill="none" stroke="#333" stroke-width="0.8"/>
<text transform="translate(341.9,149) scale(1,0.9)" text-anchor="middle" class="t">NB</text>
<rect x="357.97" y="124.64" width="8.1" height="14.36" fill="#f0f0f0"/>
<path d="M357.97 139V124.64H366.07V139" fill="none" stroke="#3a3a3a" stroke-width="1.0"/>
<rect x="368.67" y="125.33" width="8.3" height="13.67" fill="#cce3f6"/>
<path d="M368.67 139V125.33H376.97V139" fill="none" stroke="#3a3a3a" stroke-width="1.0"/>
<circle cx="362.02" cy="131.73" r="0.85" fill="#1a1a1a"/>
<circle cx="363.92" cy="131.04" r="0.85" fill="#1a1a1a"/>
<circle cx="360.12" cy="130.34" r="0.85" fill="#1a1a1a"/>
<circle cx="365.82" cy="129.48" r="0.85" fill="#1a1a1a"/>
<circle cx="362.02" cy="128.79" r="0.85" fill="#1a1a1a"/>
<circle cx="358.22" cy="128.48" r="0.85" fill="#1a1a1a"/>
<circle cx="363.92" cy="128.35" r="0.85" fill="#1a1a1a"/>
<circle cx="362.02" cy="127.96" r="0.85" fill="#1a1a1a"/>
<circle cx="360.12" cy="127.55" r="0.85" fill="#1a1a1a"/>
<circle cx="365.82" cy="126.81" r="0.85" fill="#1a1a1a"/>
<circle cx="363.92" cy="126.72" r="0.85" fill="#1a1a1a"/>
<circle cx="360.12" cy="126.55" r="0.85" fill="#1a1a1a"/>
<circle cx="362.02" cy="125.98" r="0.85" fill="#1a1a1a"/>
<circle cx="365.82" cy="125.95" r="0.85" fill="#1a1a1a"/>
<circle cx="358.22" cy="125.92" r="0.85" fill="#1a1a1a"/>
<circle cx="358.22" cy="125.85" r="0.85" fill="#1a1a1a"/>
<circle cx="363.92" cy="125.69" r="0.85" fill="#1a1a1a"/>
<circle cx="362.02" cy="124.72" r="0.85" fill="#1a1a1a"/>
<circle cx="360.12" cy="124.42" r="0.85" fill="#1a1a1a"/>
<circle cx="362.02" cy="124.35" r="0.85" fill="#1a1a1a"/>
<circle cx="365.82" cy="124.17" r="0.85" fill="#1a1a1a"/>
<circle cx="363.92" cy="124.15" r="0.85" fill="#1a1a1a"/>
<circle cx="360.12" cy="123.86" r="0.85" fill="#1a1a1a"/>
<circle cx="363.92" cy="123.77" r="0.85" fill="#1a1a1a"/>
<circle cx="360.12" cy="123.76" r="0.85" fill="#1a1a1a"/>
<circle cx="365.82" cy="123.65" r="0.85" fill="#1a1a1a"/>
<circle cx="362.02" cy="123.34" r="0.85" fill="#1a1a1a"/>
<circle cx="358.22" cy="122.95" r="0.85" fill="#1a1a1a"/>
<circle cx="362.02" cy="117.38" r="0.85" fill="#1a1a1a"/>
<circle cx="372.82" cy="128.97" r="0.95" fill="#2a86e6"/>
<circle cx="374.67" cy="127.24" r="0.95" fill="#2a86e6"/>
<circle cx="372.82" cy="126.22" r="0.95" fill="#2a86e6"/>
<circle cx="370.97" cy="124.69" r="0.95" fill="#2a86e6"/>
<circle cx="376.52" cy="124.68" r="0.95" fill="#2a86e6"/>
<circle cx="374.67" cy="124.33" r="0.95" fill="#2a86e6"/>
<circle cx="369.12" cy="124.11" r="0.95" fill="#2a86e6"/>
<circle cx="372.82" cy="123.1" r="0.95" fill="#2a86e6"/>
<circle cx="372.82" cy="118.59" r="0.95" fill="#2a86e6"/>
<circle cx="374.67" cy="118.59" r="0.95" fill="#2a86e6"/>
<path d="M362.02 125.51V123.78M360.12 123.78H363.92M360.12 125.51H363.92" fill="none" stroke="#333" stroke-width="0.8"/>
<path d="M372.82 128.79V121.87M370.92 121.87H374.72M370.92 128.79H374.72" fill="none" stroke="#333" stroke-width="0.8"/>
<text transform="translate(367.47,149) scale(1,0.9)" text-anchor="middle" class="t">aNB</text>
<rect x="383.54" y="126.89" width="8.1" height="12.11" fill="#f0f0f0"/>
<path d="M383.54 139V126.89H391.64V139" fill="none" stroke="#3a3a3a" stroke-width="1.0"/>
<rect x="394.24" y="127.24" width="8.3" height="11.76" fill="#cce3f6"/>
<path d="M394.24 139V127.24H402.54V139" fill="none" stroke="#3a3a3a" stroke-width="1.0"/>
<circle cx="387.59" cy="133.46" r="0.85" fill="#1a1a1a"/>
<circle cx="389.49" cy="133.46" r="0.85" fill="#1a1a1a"/>
<circle cx="387.59" cy="129.18" r="0.85" fill="#1a1a1a"/>
<circle cx="389.49" cy="128.82" r="0.85" fill="#1a1a1a"/>
<circle cx="385.69" cy="128.66" r="0.85" fill="#1a1a1a"/>
<circle cx="391.39" cy="128.65" r="0.85" fill="#1a1a1a"/>
<circle cx="383.79" cy="127.85" r="0.85" fill="#1a1a1a"/>
<circle cx="387.59" cy="127.83" r="0.85" fill="#1a1a1a"/>
<circle cx="389.49" cy="127.6" r="0.85" fill="#1a1a1a"/>
<circle cx="385.69" cy="127.2" r="0.85" fill="#1a1a1a"/>
<circle cx="391.39" cy="126.96" r="0.85" fill="#1a1a1a"/>
<circle cx="383.79" cy="126.9" r="0.85" fill="#1a1a1a"/>
<circle cx="387.59" cy="126.8" r="0.85" fill="#1a1a1a"/>
<circle cx="389.49" cy="126.78" r="0.85" fill="#1a1a1a"/>
<circle cx="387.59" cy="126.45" r="0.85" fill="#1a1a1a"/>
<circle cx="385.69" cy="126.02" r="0.85" fill="#1a1a1a"/>
<circle cx="391.39" cy="125.71" r="0.85" fill="#1a1a1a"/>
<circle cx="389.49" cy="125.69" r="0.85" fill="#1a1a1a"/>
<circle cx="385.69" cy="125.41" r="0.85" fill="#1a1a1a"/>
<circle cx="383.79" cy="125.15" r="0.85" fill="#1a1a1a"/>
<circle cx="387.59" cy="124.91" r="0.85" fill="#1a1a1a"/>
<circle cx="389.49" cy="124.81" r="0.85" fill="#1a1a1a"/>
<circle cx="391.39" cy="124.72" r="0.85" fill="#1a1a1a"/>
<circle cx="387.59" cy="123.66" r="0.85" fill="#1a1a1a"/>
<circle cx="383.79" cy="123.6" r="0.85" fill="#1a1a1a"/>
<circle cx="387.59" cy="123.6" r="0.85" fill="#1a1a1a"/>
<circle cx="385.69" cy="123.25" r="0.85" fill="#1a1a1a"/>
<circle cx="398.39" cy="128.13" r="0.95" fill="#2a86e6"/>
<circle cx="400.24" cy="128.1" r="0.95" fill="#2a86e6"/>
<circle cx="396.54" cy="127.68" r="0.95" fill="#2a86e6"/>
<circle cx="402.09" cy="127.08" r="0.95" fill="#2a86e6"/>
<circle cx="394.69" cy="126.74" r="0.95" fill="#2a86e6"/>
<circle cx="398.39" cy="126.3" r="0.95" fill="#2a86e6"/>
<circle cx="400.24" cy="126.23" r="0.95" fill="#2a86e6"/>
<circle cx="396.54" cy="125.89" r="0.95" fill="#2a86e6"/>
<circle cx="402.09" cy="125.88" r="0.95" fill="#2a86e6"/>
<circle cx="394.69" cy="125.79" r="0.95" fill="#2a86e6"/>
<circle cx="398.39" cy="125.42" r="0.95" fill="#2a86e6"/>
<circle cx="400.24" cy="124.22" r="0.95" fill="#2a86e6"/>
<path d="M387.59 127.41V126.37M385.69 126.37H389.49M385.69 127.41H389.49" fill="none" stroke="#333" stroke-width="0.8"/>
<path d="M398.39 127.75V126.72M396.49 126.72H400.29M396.49 127.75H400.29" fill="none" stroke="#333" stroke-width="0.8"/>
<text transform="translate(393.04,149) scale(1,0.9)" text-anchor="middle" class="t">DN</text>
<rect x="409.11" y="123.26" width="8.1" height="15.74" fill="#f0f0f0"/>
<path d="M409.11 139V123.26H417.21V139" fill="none" stroke="#3a3a3a" stroke-width="1.0"/>
<rect x="419.81" y="123.95" width="8.3" height="15.05" fill="#cce3f6"/>
<path d="M419.81 139V123.95H428.11V139" fill="none" stroke="#3a3a3a" stroke-width="1.0"/>
<circle cx="413.16" cy="133.29" r="0.85" fill="#1a1a1a"/>
<circle cx="415.06" cy="133.29" r="0.85" fill="#1a1a1a"/>
<circle cx="413.16" cy="129.33" r="0.85" fill="#1a1a1a"/>
<circle cx="415.06" cy="128.79" r="0.85" fill="#1a1a1a"/>
<circle cx="411.26" cy="127.95" r="0.85" fill="#1a1a1a"/>
<circle cx="416.96" cy="127.24" r="0.85" fill="#1a1a1a"/>
<circle cx="413.16" cy="126.2" r="0.85" fill="#1a1a1a"/>
<circle cx="415.06" cy="125.58" r="0.85" fill="#1a1a1a"/>
<circle cx="409.36" cy="125.52" r="0.85" fill="#1a1a1a"/>
<circle cx="413.16" cy="125.4" r="0.85" fill="#1a1a1a"/>
<circle cx="411.26" cy="124.57" r="0.85" fill="#1a1a1a"/>
<circle cx="416.96" cy="124.2" r="0.85" fill="#1a1a1a"/>
<circle cx="415.06" cy="123.89" r="0.85" fill="#1a1a1a"/>
<circle cx="411.26" cy="123.71" r="0.85" fill="#1a1a1a"/>
<circle cx="413.16" cy="122.96" r="0.85" fill="#1a1a1a"/>
<circle cx="409.36" cy="122.25" r="0.85" fill="#1a1a1a"/>
<circle cx="413.16" cy="122.13" r="0.85" fill="#1a1a1a"/>
<circle cx="415.06" cy="122.12" r="0.85" fill="#1a1a1a"/>
<circle cx="416.96" cy="122.12" r="0.85" fill="#1a1a1a"/>
<circle cx="409.36" cy="121.99" r="0.85" fill="#1a1a1a"/>
<circle cx="411.26" cy="121.85" r="0.85" fill="#1a1a1a"/>
<circle cx="413.16" cy="121.68" r="0.85" fill="#1a1a1a"/>
<circle cx="415.06" cy="121.2" r="0.85" fill="#1a1a1a"/>
<circle cx="416.96" cy="121.11" r="0.85" fill="#1a1a1a"/>
<circle cx="411.26" cy="121.07" r="0.85" fill="#1a1a1a"/>
<circle cx="415.06" cy="121.05" r="0.85" fill="#1a1a1a"/>
<circle cx="411.26" cy="120.95" r="0.85" fill="#1a1a1a"/>
<circle cx="413.16" cy="120.25" r="0.85" fill="#1a1a1a"/>
<circle cx="416.96" cy="119.77" r="0.85" fill="#1a1a1a"/>
<circle cx="409.36" cy="119.74" r="0.85" fill="#1a1a1a"/>
<circle cx="413.16" cy="119.45" r="0.85" fill="#1a1a1a"/>
<circle cx="409.36" cy="118.79" r="0.85" fill="#1a1a1a"/>
<circle cx="415.06" cy="117.03" r="0.85" fill="#1a1a1a"/>
<circle cx="411.26" cy="117.03" r="0.85" fill="#1a1a1a"/>
<circle cx="416.96" cy="117.03" r="0.85" fill="#1a1a1a"/>
<circle cx="423.96" cy="124.04" r="0.95" fill="#2a86e6"/>
<circle cx="425.81" cy="122.78" r="0.95" fill="#2a86e6"/>
<circle cx="422.11" cy="122.69" r="0.95" fill="#2a86e6"/>
<circle cx="427.66" cy="121.83" r="0.95" fill="#2a86e6"/>
<circle cx="420.26" cy="121.82" r="0.95" fill="#2a86e6"/>
<circle cx="423.96" cy="121.78" r="0.95" fill="#2a86e6"/>
<circle cx="425.81" cy="121.48" r="0.95" fill="#2a86e6"/>
<circle cx="422.11" cy="119.35" r="0.95" fill="#2a86e6"/>
<circle cx="423.96" cy="117.71" r="0.95" fill="#2a86e6"/>
<circle cx="425.81" cy="117.26" r="0.95" fill="#2a86e6"/>
<circle cx="422.11" cy="116.51" r="0.95" fill="#2a86e6"/>
<circle cx="427.66" cy="116.16" r="0.95" fill="#2a86e6"/>
<path d="M413.16 124.12V122.39M411.26 122.39H415.06M411.26 124.12H415.06" fill="none" stroke="#333" stroke-width="0.8"/>
<path d="M423.96 125.51V122.39M422.06 122.39H425.86M422.06 125.51H425.86" fill="none" stroke="#333" stroke-width="0.8"/>
<text transform="translate(418.61,149) scale(1,0.9)" text-anchor="middle" class="t">NSM</text>
<rect x="434.68" y="123.26" width="8.1" height="15.74" fill="#f0f0f0"/>
<path d="M434.68 139V123.26H442.78V139" fill="none" stroke="#3a3a3a" stroke-width="1.0"/>
<rect x="445.38" y="124.64" width="8.3" height="14.36" fill="#cce3f6"/>
<path d="M445.38 139V124.64H453.68V139" fill="none" stroke="#3a3a3a" stroke-width="1.0"/>
<circle cx="438.73" cy="133.81" r="0.85" fill="#1a1a1a"/>
<circle cx="440.63" cy="133.81" r="0.85" fill="#1a1a1a"/>
<circle cx="438.73" cy="128.18" r="0.85" fill="#1a1a1a"/>
<circle cx="440.63" cy="127.63" r="0.85" fill="#1a1a1a"/>
<circle cx="436.83" cy="126.89" r="0.85" fill="#1a1a1a"/>
<circle cx="442.53" cy="125.89" r="0.85" fill="#1a1a1a"/>
<circle cx="434.93" cy="125.71" r="0.85" fill="#1a1a1a"/>
<circle cx="438.73" cy="125.59" r="0.85" fill="#1a1a1a"/>
<circle cx="438.73" cy="125.41" r="0.85" fill="#1a1a1a"/>
<circle cx="440.63" cy="125.06" r="0.85" fill="#1a1a1a"/>
<circle cx="440.63" cy="125" r="0.85" fill="#1a1a1a"/>
<circle cx="436.83" cy="124.68" r="0.85" fill="#1a1a1a"/>
<circle cx="436.83" cy="124.26" r="0.85" fill="#1a1a1a"/>
<circle cx="442.53" cy="124.1" r="0.85" fill="#1a1a1a"/>
<circle cx="434.93" cy="123.97" r="0.85" fill="#1a1a1a"/>
<circle cx="438.73" cy="123.9" r="0.85" fill="#1a1a1a"/>
<circle cx="440.63" cy="123.77" r="0.85" fill="#1a1a1a"/>
<circle cx="436.83" cy="123.74" r="0.85" fill="#1a1a1a"/>
<circle cx="442.53" cy="123.6" r="0.85" fill="#1a1a1a"/>
<circle cx="434.93" cy="123.48" r="0.85" fill="#1a1a1a"/>
<circle cx="438.73" cy="123.47" r="0.85" fill="#1a1a1a"/>
<circle cx="442.53" cy="123.18" r="0.85" fill="#1a1a1a"/>
<circle cx="434.93" cy="122.92" r="0.85" fill="#1a1a1a"/>
<circle cx="438.73" cy="122.85" r="0.85" fill="#1a1a1a"/>
<circle cx="438.73" cy="122.57" r="0.85" fill="#1a1a1a"/>
<circle cx="440.63" cy="122.14" r="0.85" fill="#1a1a1a"/>
<circle cx="436.83" cy="121.62" r="0.85" fill="#1a1a1a"/>
<circle cx="440.63" cy="120.66" r="0.85" fill="#1a1a1a"/>
<circle cx="436.83" cy="120.6" r="0.85" fill="#1a1a1a"/>
<circle cx="442.53" cy="120.07" r="0.85" fill="#1a1a1a"/>
<circle cx="438.73" cy="118.24" r="0.85" fill="#1a1a1a"/>
<circle cx="434.93" cy="118.24" r="0.85" fill="#1a1a1a"/>
<circle cx="449.53" cy="125.39" r="0.95" fill="#2a86e6"/>
<circle cx="451.38" cy="125.26" r="0.95" fill="#2a86e6"/>
<circle cx="447.68" cy="124.43" r="0.95" fill="#2a86e6"/>
<circle cx="453.23" cy="124.03" r="0.95" fill="#2a86e6"/>
<circle cx="445.83" cy="124" r="0.95" fill="#2a86e6"/>
<circle cx="449.53" cy="123.96" r="0.95" fill="#2a86e6"/>
<circle cx="451.38" cy="123.62" r="0.95" fill="#2a86e6"/>
<circle cx="447.68" cy="123.2" r="0.95" fill="#2a86e6"/>
<circle cx="453.23" cy="123.01" r="0.95" fill="#2a86e6"/>
<circle cx="445.83" cy="122.95" r="0.95" fill="#2a86e6"/>
<circle cx="449.53" cy="122.69" r="0.95" fill="#2a86e6"/>
<circle cx="451.38" cy="121.42" r="0.95" fill="#2a86e6"/>
<path d="M438.73 123.95V122.56M436.83 122.56H440.63M436.83 123.95H440.63" fill="none" stroke="#333" stroke-width="0.8"/>
<path d="M449.53 125.51V123.78M447.63 123.78H451.43M447.63 125.51H451.43" fill="none" stroke="#333" stroke-width="0.8"/>
<text transform="translate(444.18,149) scale(1,0.9)" text-anchor="middle" class="t">SM</text>
<rect x="460.25" y="90.91" width="8.1" height="48.09" fill="#f0f0f0"/>
<path d="M460.25 139V90.91H468.35V139" fill="none" stroke="#3a3a3a" stroke-width="1.0"/>
<rect x="470.95" y="83.99" width="8.3" height="55.01" fill="#cce3f6"/>
<path d="M470.95 139V83.99H479.25V139" fill="none" stroke="#3a3a3a" stroke-width="1.0"/>
<circle cx="464.3" cy="106.32" r="0.85" fill="#1a1a1a"/>
<circle cx="464.3" cy="103.18" r="0.85" fill="#1a1a1a"/>
<circle cx="466.2" cy="101.11" r="0.85" fill="#1a1a1a"/>
<circle cx="462.4" cy="100.74" r="0.85" fill="#1a1a1a"/>
<circle cx="464.3" cy="100.37" r="0.85" fill="#1a1a1a"/>
<circle cx="468.1" cy="99.74" r="0.85" fill="#1a1a1a"/>
<circle cx="460.5" cy="98.7" r="0.85" fill="#1a1a1a"/>
<circle cx="464.3" cy="97.53" r="0.85" fill="#1a1a1a"/>
<circle cx="466.2" cy="97.44" r="0.85" fill="#1a1a1a"/>
<circle cx="462.4" cy="96.86" r="0.85" fill="#1a1a1a"/>
<circle cx="468.1" cy="95.86" r="0.85" fill="#1a1a1a"/>
<circle cx="464.3" cy="94.84" r="0.85" fill="#1a1a1a"/>
<circle cx="466.2" cy="93.71" r="0.85" fill="#1a1a1a"/>
<circle cx="462.4" cy="93.22" r="0.85" fill="#1a1a1a"/>
<circle cx="468.1" cy="92.91" r="0.85" fill="#1a1a1a"/>
<circle cx="460.5" cy="92.88" r="0.85" fill="#1a1a1a"/>
<circle cx="464.3" cy="92.23" r="0.85" fill="#1a1a1a"/>
<circle cx="466.2" cy="89.79" r="0.85" fill="#1a1a1a"/>
<circle cx="464.3" cy="88.92" r="0.85" fill="#1a1a1a"/>
<circle cx="464.3" cy="86.19" r="0.85" fill="#1a1a1a"/>
<circle cx="466.2" cy="85.84" r="0.85" fill="#1a1a1a"/>
<circle cx="462.4" cy="85.3" r="0.85" fill="#1a1a1a"/>
<circle cx="468.1" cy="85.1" r="0.85" fill="#1a1a1a"/>
<circle cx="460.5" cy="83.6" r="0.85" fill="#1a1a1a"/>
<circle cx="464.3" cy="83.12" r="0.85" fill="#1a1a1a"/>
<circle cx="464.3" cy="77.84" r="0.85" fill="#1a1a1a"/>
<circle cx="464.3" cy="74.82" r="0.85" fill="#1a1a1a"/>
<circle cx="464.3" cy="69.97" r="0.85" fill="#1a1a1a"/>
<circle cx="464.3" cy="65.13" r="0.85" fill="#1a1a1a"/>
<circle cx="464.3" cy="37.62" r="0.85" fill="#1a1a1a"/>
<circle cx="464.3" cy="34.51" r="0.85" fill="#1a1a1a"/>
<circle cx="475.1" cy="111.32" r="0.95" fill="#2a86e6"/>
<circle cx="475.1" cy="104.4" r="0.95" fill="#2a86e6"/>
<circle cx="475.1" cy="99.21" r="0.95" fill="#2a86e6"/>
<circle cx="475.1" cy="94.02" r="0.95" fill="#2a86e6"/>
<circle cx="475.1" cy="90.56" r="0.95" fill="#2a86e6"/>
<circle cx="475.1" cy="87.1" r="0.95" fill="#2a86e6"/>
<circle cx="475.1" cy="81.91" r="0.95" fill="#2a86e6"/>
<circle cx="475.1" cy="76.72" r="0.95" fill="#2a86e6"/>
<circle cx="475.1" cy="67.2" r="0.95" fill="#2a86e6"/>
<circle cx="476.95" cy="66.34" r="0.95" fill="#2a86e6"/>
<circle cx="473.25" cy="65.48" r="0.95" fill="#2a86e6"/>
<path d="M464.3 95.23V86.58M462.4 86.58H466.2M462.4 95.23H466.2" fill="none" stroke="#333" stroke-width="0.8"/>
<path d="M475.1 94.71V73.26M473.2 73.26H477M473.2 94.71H477" fill="none" stroke="#333" stroke-width="0.8"/>
<text transform="translate(469.75,149) scale(1,0.9)" text-anchor="middle" class="t">PB</text>
<rect x="485.82" y="100.25" width="8.1" height="38.75" fill="#f0f0f0"/>
<path d="M485.82 139V100.25H493.92V139" fill="none" stroke="#3a3a3a" stroke-width="1.0"/>
<rect x="496.52" y="95.4" width="8.3" height="43.6" fill="#cce3f6"/>
<path d="M496.52 139V95.4H504.82V139" fill="none" stroke="#3a3a3a" stroke-width="1.0"/>
<circle cx="489.87" cy="126.37" r="0.85" fill="#1a1a1a"/>
<circle cx="489.87" cy="120.49" r="0.85" fill="#1a1a1a"/>
<circle cx="489.87" cy="115.47" r="0.85" fill="#1a1a1a"/>
<circle cx="489.87" cy="109.59" r="0.85" fill="#1a1a1a"/>
<circle cx="489.87" cy="102.73" r="0.85" fill="#1a1a1a"/>
<circle cx="491.77" cy="102.62" r="0.85" fill="#1a1a1a"/>
<circle cx="487.97" cy="102.04" r="0.85" fill="#1a1a1a"/>
<circle cx="493.67" cy="101.64" r="0.85" fill="#1a1a1a"/>
<circle cx="486.07" cy="100.5" r="0.85" fill="#1a1a1a"/>
<circle cx="489.87" cy="100.44" r="0.85" fill="#1a1a1a"/>
<circle cx="491.77" cy="100.15" r="0.85" fill="#1a1a1a"/>
<circle cx="489.87" cy="100.04" r="0.85" fill="#1a1a1a"/>
<circle cx="491.77" cy="99.53" r="0.85" fill="#1a1a1a"/>
<circle cx="487.97" cy="99.14" r="0.85" fill="#1a1a1a"/>
<circle cx="493.67" cy="97.57" r="0.85" fill="#1a1a1a"/>
<circle cx="486.07" cy="97.45" r="0.85" fill="#1a1a1a"/>
<circle cx="489.87" cy="97.34" r="0.85" fill="#1a1a1a"/>
<circle cx="491.77" cy="96.8" r="0.85" fill="#1a1a1a"/>
<circle cx="489.87" cy="96.54" r="0.85" fill="#1a1a1a"/>
<circle cx="487.97" cy="96.14" r="0.85" fill="#1a1a1a"/>
<circle cx="491.77" cy="95.07" r="0.85" fill="#1a1a1a"/>
<circle cx="493.67" cy="94.43" r="0.85" fill="#1a1a1a"/>
<circle cx="486.07" cy="94.31" r="0.85" fill="#1a1a1a"/>
<circle cx="489.87" cy="93.85" r="0.85" fill="#1a1a1a"/>
<circle cx="487.97" cy="93.07" r="0.85" fill="#1a1a1a"/>
<circle cx="491.77" cy="91.59" r="0.85" fill="#1a1a1a"/>
<circle cx="489.87" cy="90.21" r="0.85" fill="#1a1a1a"/>
<circle cx="491.77" cy="87.97" r="0.85" fill="#1a1a1a"/>
<circle cx="489.87" cy="84.85" r="0.85" fill="#1a1a1a"/>
<circle cx="500.67" cy="123.43" r="0.95" fill="#2a86e6"/>
<circle cx="500.67" cy="117.55" r="0.95" fill="#2a86e6"/>
<circle cx="500.67" cy="109.59" r="0.95" fill="#2a86e6"/>
<circle cx="500.67" cy="95.75" r="0.95" fill="#2a86e6"/>
<circle cx="500.67" cy="88.83" r="0.95" fill="#2a86e6"/>
<circle cx="500.67" cy="84.85" r="0.95" fill="#2a86e6"/>
<circle cx="502.52" cy="84.85" r="0.95" fill="#2a86e6"/>
<circle cx="500.67" cy="81.56" r="0.95" fill="#2a86e6"/>
<circle cx="502.52" cy="79.66" r="0.95" fill="#2a86e6"/>
<path d="M489.87 102.32V98.17M487.97 98.17H491.77M487.97 102.32H491.77" fill="none" stroke="#333" stroke-width="0.8"/>
<path d="M500.67 105.78V85.02M498.77 85.02H502.57M498.77 105.78H502.57" fill="none" stroke="#333" stroke-width="0.8"/>
<text transform="translate(495.32,149) scale(1,0.9)" text-anchor="middle" class="t">PC</text>
<path d="M336.5 117.3V23H347.6V117.3" fill="none" stroke="#8a8a8a" stroke-width="1"/>
<circle cx="337.48" cy="19" r="1.15" fill="#111"/>
<circle cx="340.53" cy="19" r="1.15" fill="#111"/>
<circle cx="343.57" cy="19" r="1.15" fill="#111"/>
<circle cx="346.62" cy="19" r="1.15" fill="#111"/>
<path d="M387.6 117.3V23H399.1V117.3" fill="none" stroke="#8a8a8a" stroke-width="1"/>
<circle cx="391.83" cy="19" r="1.15" fill="#111"/>
<circle cx="394.88" cy="19" r="1.15" fill="#111"/>
<circle cx="506.8" cy="22" r="0.9" fill="#1a1a1a"/>
<circle cx="506.8" cy="33.7" r="0.9" fill="#2a86e6"/>
<text x="516.6" y="24.4" class="l">HC</text>
<text x="516.2" y="36.1" class="l">SLE (BEL)</text>
<text transform="translate(299.3,77.6) rotate(-90)" text-anchor="middle" class="yb">BCMA expression (MFI)</text>
<text transform="translate(308.4,77.7) rotate(-90)" text-anchor="middle" class="yb">on CD19<tspan font-size="4.8px" dy="-2.6">+</tspan><tspan dy="2.6"> B cells</tspan></text>
<line x1="47.1" y1="191.4" x2="47.1" y2="311.0" stroke="#9a9a9a" stroke-width="1.5"/>
<line x1="44.8" y1="311.0" x2="125.9" y2="311.0" stroke="#9a9a9a" stroke-width="1.5"/>
<line x1="44.0" y1="311" x2="47.1" y2="311" stroke="#9a9a9a" stroke-width="1.1"/>
<text x="42.3" y="313.6" text-anchor="end" class="t">0</text>
<line x1="45.4" y1="299.09" x2="47.1" y2="299.09" stroke="#9a9a9a" stroke-width="1"/>
<line x1="44.0" y1="287.18" x2="47.1" y2="287.18" stroke="#9a9a9a" stroke-width="1.1"/>
<text x="42.3" y="289.78" text-anchor="end" class="t">20</text>
<line x1="45.4" y1="275.27" x2="47.1" y2="275.27" stroke="#9a9a9a" stroke-width="1"/>
<line x1="44.0" y1="263.36" x2="47.1" y2="263.36" stroke="#9a9a9a" stroke-width="1.1"/>
<text x="42.3" y="265.96" text-anchor="end" class="t">40</text>
<line x1="45.4" y1="251.45" x2="47.1" y2="251.45" stroke="#9a9a9a" stroke-width="1"/>
<line x1="44.0" y1="239.54" x2="47.1" y2="239.54" stroke="#9a9a9a" stroke-width="1.1"/>
<text x="42.3" y="242.14" text-anchor="end" class="t">60</text>
<line x1="45.4" y1="227.63" x2="47.1" y2="227.63" stroke="#9a9a9a" stroke-width="1"/>
<line x1="44.0" y1="215.72" x2="47.1" y2="215.72" stroke="#9a9a9a" stroke-width="1.1"/>
<text x="42.3" y="218.32" text-anchor="end" class="t">80</text>
<line x1="45.4" y1="203.81" x2="47.1" y2="203.81" stroke="#9a9a9a" stroke-width="1"/>
<line x1="44.0" y1="191.9" x2="47.1" y2="191.9" stroke="#9a9a9a" stroke-width="1.1"/>
<text x="42.3" y="194.5" text-anchor="end" class="t">100</text>
<line x1="68.4" y1="311.0" x2="68.4" y2="313.6" stroke="#9a9a9a" stroke-width="0.8"/>
<line x1="104.1" y1="311.0" x2="104.1" y2="313.6" stroke="#9a9a9a" stroke-width="0.8"/>
<text x="68.4" y="321.2" text-anchor="middle" class="t">Before BEL</text>
<text x="104.1" y="321.2" text-anchor="middle" class="t">Under BEL</text>
<text transform="translate(28.6,250.5) rotate(-90)" text-anchor="middle" class="yc">sBCMA (ng/mL)</text>
<line x1="68.5" y1="262.8" x2="104.1" y2="202.7" stroke="#3a3a3a" stroke-width="0.75"/>
<line x1="68.5" y1="256.0" x2="104.1" y2="260.8" stroke="#3a3a3a" stroke-width="0.75"/>
<line x1="68.5" y1="258.2" x2="104.1" y2="274.4" stroke="#3a3a3a" stroke-width="0.75"/>
<line x1="68.5" y1="272.9" x2="104.1" y2="290.6" stroke="#3a3a3a" stroke-width="0.75"/>
<line x1="68.5" y1="274.2" x2="104.1" y2="282.4" stroke="#3a3a3a" stroke-width="0.75"/>
<line x1="68.5" y1="282.2" x2="104.1" y2="274.4" stroke="#3a3a3a" stroke-width="0.75"/>
<line x1="68.5" y1="282.2" x2="104.1" y2="288.6" stroke="#3a3a3a" stroke-width="0.75"/>
<line x1="68.5" y1="289.8" x2="104.1" y2="283.3" stroke="#3a3a3a" stroke-width="0.75"/>
<circle cx="68.5" cy="262.8" r="1.3" fill="#111"/><circle cx="104.1" cy="202.7" r="1.3" fill="#111"/>
<circle cx="68.5" cy="256.0" r="1.3" fill="#111"/><circle cx="104.1" cy="260.8" r="1.3" fill="#111"/>
<circle cx="68.5" cy="258.2" r="1.3" fill="#111"/><circle cx="104.1" cy="274.4" r="1.3" fill="#111"/>
<circle cx="68.5" cy="272.9" r="1.3" fill="#111"/><circle cx="104.1" cy="290.6" r="1.3" fill="#111"/>
<circle cx="68.5" cy="274.2" r="1.3" fill="#111"/><circle cx="104.1" cy="282.4" r="1.3" fill="#111"/>
<circle cx="68.5" cy="282.2" r="1.3" fill="#111"/><circle cx="104.1" cy="274.4" r="1.3" fill="#111"/>
<circle cx="68.5" cy="282.2" r="1.3" fill="#111"/><circle cx="104.1" cy="288.6" r="1.3" fill="#111"/>
<circle cx="68.5" cy="289.8" r="1.3" fill="#111"/><circle cx="104.1" cy="283.3" r="1.3" fill="#111"/>
<line x1="187.5" y1="191.2" x2="187.5" y2="310.9" stroke="#9a9a9a" stroke-width="1.5"/>
<line x1="185.2" y1="310.9" x2="266.6" y2="310.9" stroke="#9a9a9a" stroke-width="1.5"/>
<line x1="184.4" y1="310.9" x2="187.5" y2="310.9" stroke="#9a9a9a" stroke-width="1.1"/>
<text x="182.7" y="313.5" text-anchor="end" class="t">0</text>
<line x1="185.8" y1="296" x2="187.5" y2="296" stroke="#9a9a9a" stroke-width="1"/>
<line x1="184.4" y1="281.1" x2="187.5" y2="281.1" stroke="#9a9a9a" stroke-width="1.1"/>
<text x="182.7" y="283.7" text-anchor="end" class="t">100</text>
<line x1="185.8" y1="266.2" x2="187.5" y2="266.2" stroke="#9a9a9a" stroke-width="1"/>
<line x1="184.4" y1="251.3" x2="187.5" y2="251.3" stroke="#9a9a9a" stroke-width="1.1"/>
<text x="182.7" y="253.9" text-anchor="end" class="t">200</text>
<line x1="185.8" y1="236.4" x2="187.5" y2="236.4" stroke="#9a9a9a" stroke-width="1"/>
<line x1="184.4" y1="221.5" x2="187.5" y2="221.5" stroke="#9a9a9a" stroke-width="1.1"/>
<text x="182.7" y="224.1" text-anchor="end" class="t">300</text>
<line x1="185.8" y1="206.6" x2="187.5" y2="206.6" stroke="#9a9a9a" stroke-width="1"/>
<line x1="184.4" y1="191.7" x2="187.5" y2="191.7" stroke="#9a9a9a" stroke-width="1.1"/>
<text x="182.7" y="194.3" text-anchor="end" class="t">400</text>
<line x1="210.2" y1="310.9" x2="210.2" y2="313.5" stroke="#9a9a9a" stroke-width="0.8"/>
<line x1="244.2" y1="310.9" x2="244.2" y2="313.5" stroke="#9a9a9a" stroke-width="0.8"/>
<text x="210.2" y="321.2" text-anchor="middle" class="t">Before BEL</text>
<text x="244.2" y="321.2" text-anchor="middle" class="t">Under BEL</text>
<text transform="translate(169.0,250.5) rotate(-90)" text-anchor="middle" class="yc">sTACI (pg/mL)</text>
<line x1="209.8" y1="214.2" x2="244.0" y2="294.6" stroke="#3a3a3a" stroke-width="0.75"/>
<line x1="209.8" y1="227.5" x2="244.0" y2="292.4" stroke="#3a3a3a" stroke-width="0.75"/>
<line x1="209.8" y1="250.0" x2="244.0" y2="275.9" stroke="#3a3a3a" stroke-width="0.75"/>
<line x1="209.8" y1="251.6" x2="244.0" y2="289.7" stroke="#3a3a3a" stroke-width="0.75"/>
<line x1="209.8" y1="252.5" x2="244.0" y2="293.4" stroke="#3a3a3a" stroke-width="0.75"/>
<line x1="209.8" y1="258.3" x2="244.0" y2="247.1" stroke="#3a3a3a" stroke-width="0.75"/>
<line x1="209.8" y1="263.8" x2="244.0" y2="256.1" stroke="#3a3a3a" stroke-width="0.75"/>
<line x1="209.8" y1="271.9" x2="244.0" y2="286.2" stroke="#3a3a3a" stroke-width="0.75"/>
<line x1="209.8" y1="280.2" x2="244.0" y2="282.3" stroke="#3a3a3a" stroke-width="0.75"/>
<circle cx="209.8" cy="214.2" r="1.3" fill="#111"/><circle cx="244.0" cy="294.6" r="1.3" fill="#111"/>
<circle cx="209.8" cy="227.5" r="1.3" fill="#111"/><circle cx="244.0" cy="292.4" r="1.3" fill="#111"/>
<circle cx="209.8" cy="250.0" r="1.3" fill="#111"/><circle cx="244.0" cy="275.9" r="1.3" fill="#111"/>
<circle cx="209.8" cy="251.6" r="1.3" fill="#111"/><circle cx="244.0" cy="289.7" r="1.3" fill="#111"/>
<circle cx="209.8" cy="252.5" r="1.3" fill="#111"/><circle cx="244.0" cy="293.4" r="1.3" fill="#111"/>
<circle cx="209.8" cy="258.3" r="1.3" fill="#111"/><circle cx="244.0" cy="247.1" r="1.3" fill="#111"/>
<circle cx="209.8" cy="263.8" r="1.3" fill="#111"/><circle cx="244.0" cy="256.1" r="1.3" fill="#111"/>
<circle cx="209.8" cy="271.9" r="1.3" fill="#111"/><circle cx="244.0" cy="286.2" r="1.3" fill="#111"/>
<circle cx="209.8" cy="280.2" r="1.3" fill="#111"/><circle cx="244.0" cy="282.3" r="1.3" fill="#111"/>
<path d="M210 195.5V190.5H244V195.5" fill="none" stroke="#8a8a8a" stroke-width="1"/>
<circle cx="227" cy="186.5" r="1.3" fill="#111"/>
</svg>
</body></html>
